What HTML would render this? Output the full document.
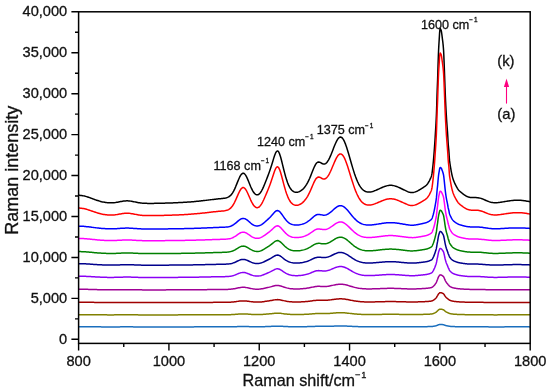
<!DOCTYPE html>
<html><head><meta charset="utf-8"><style>
html,body{margin:0;padding:0;background:#fff;}
svg{display:block;font-family:"Liberation Sans",Arial,sans-serif;}
.c path{fill:none;stroke-width:1.5;stroke-linejoin:round;}
.tl{font-size:14.6px;fill:#111;}
text{stroke:#111;stroke-width:0.3px;}
.ann{font-size:12.6px;fill:#111;}
.pl{font-size:14.8px;}
</style></head><body>
<svg width="550" height="390" viewBox="0 0 550 390">
<rect width="550" height="390" fill="#fff"/>
<g class="c">
<path d="M78.60 195.28 L79.60 195.32 L80.60 195.39 L81.60 195.51 L82.60 195.67 L83.60 195.87 L84.60 196.10 L85.60 196.36 L86.60 196.65 L87.60 196.97 L88.60 197.31 L89.60 197.66 L90.60 198.02 L91.60 198.39 L92.60 198.76 L93.60 199.13 L94.60 199.49 L95.60 199.85 L96.60 200.20 L97.60 200.53 L98.60 200.84 L99.60 201.13 L100.60 201.41 L101.60 201.67 L102.60 201.90 L103.60 202.11 L104.60 202.29 L105.60 202.45 L106.60 202.59 L107.60 202.70 L108.60 202.78 L109.60 202.83 L110.60 202.85 L111.60 202.84 L112.60 202.80 L113.60 202.73 L114.60 202.63 L115.60 202.50 L116.60 202.34 L117.60 202.17 L118.60 201.98 L119.60 201.78 L120.60 201.59 L121.60 201.40 L122.60 201.23 L123.60 201.08 L124.60 200.96 L125.60 200.88 L126.60 200.85 L127.60 200.86 L128.60 200.91 L129.60 201.00 L130.60 201.13 L131.60 201.29 L132.60 201.47 L133.60 201.67 L134.60 201.88 L135.60 202.09 L136.60 202.29 L137.60 202.48 L138.60 202.66 L139.60 202.81 L140.60 202.95 L141.60 203.07 L142.60 203.16 L143.60 203.24 L144.60 203.30 L145.60 203.34 L146.60 203.37 L147.60 203.39 L148.60 203.40 L149.60 203.41 L150.60 203.41 L151.60 203.40 L152.60 203.39 L153.60 203.38 L154.60 203.36 L155.60 203.35 L156.60 203.33 L157.60 203.31 L158.60 203.29 L159.60 203.27 L160.60 203.24 L161.60 203.22 L162.60 203.19 L163.60 203.17 L164.60 203.14 L165.60 203.11 L166.60 203.08 L167.60 203.05 L168.60 203.02 L169.60 202.99 L170.60 202.96 L171.60 202.92 L172.60 202.88 L173.60 202.84 L174.60 202.80 L175.60 202.76 L176.60 202.72 L177.60 202.67 L178.60 202.62 L179.60 202.58 L180.60 202.52 L181.60 202.47 L182.60 202.41 L183.60 202.36 L184.60 202.30 L185.60 202.23 L186.60 202.17 L187.60 202.10 L188.60 202.03 L189.60 201.96 L190.60 201.88 L191.60 201.80 L192.60 201.72 L193.60 201.63 L194.60 201.54 L195.60 201.45 L196.60 201.36 L197.60 201.26 L198.60 201.16 L199.60 201.05 L200.60 200.95 L201.60 200.84 L202.60 200.72 L203.60 200.61 L204.60 200.49 L205.60 200.37 L206.60 200.25 L207.60 200.13 L208.60 200.00 L209.60 199.88 L210.60 199.75 L211.60 199.63 L212.60 199.51 L213.60 199.39 L214.60 199.27 L215.60 199.15 L216.60 199.04 L217.60 198.94 L218.60 198.83 L219.60 198.74 L220.60 198.64 L221.60 198.54 L222.60 198.44 L223.60 198.32 L224.60 198.18 L225.60 198.00 L226.60 197.74 L227.60 197.39 L228.60 196.91 L229.60 196.25 L230.60 195.38 L231.60 194.25 L232.60 192.83 L233.60 191.10 L234.60 189.09 L235.60 186.83 L236.60 184.39 L237.60 181.88 L238.60 179.44 L239.60 177.22 L240.60 175.37 L241.60 174.03 L242.60 173.31 L243.60 173.25 L244.60 173.88 L245.60 175.13 L246.60 176.91 L247.60 179.09 L248.60 181.50 L249.60 184.00 L250.60 186.43 L251.60 188.68 L252.60 190.65 L253.60 192.28 L254.60 193.54 L255.60 194.39 L256.60 194.84 L257.60 194.87 L258.60 194.47 L259.60 193.64 L260.60 192.41 L261.60 190.78 L262.60 188.82 L263.60 186.61 L264.60 184.22 L265.60 181.73 L266.60 179.20 L267.60 176.64 L268.60 174.02 L269.60 171.28 L270.60 168.36 L271.60 165.23 L272.60 161.94 L273.60 158.62 L274.60 155.51 L275.60 152.96 L276.60 151.32 L277.60 150.90 L278.60 151.80 L279.60 153.94 L280.60 157.06 L281.60 160.81 L282.60 164.87 L283.60 168.97 L284.60 172.92 L285.60 176.57 L286.60 179.85 L287.60 182.71 L288.60 185.15 L289.60 187.16 L290.60 188.78 L291.60 190.04 L292.60 190.98 L293.60 191.64 L294.60 192.06 L295.60 192.27 L296.60 192.30 L297.60 192.17 L298.60 191.90 L299.60 191.48 L300.60 190.93 L301.60 190.24 L302.60 189.41 L303.60 188.42 L304.60 187.26 L305.60 185.91 L306.60 184.37 L307.60 182.61 L308.60 180.64 L309.60 178.46 L310.60 176.09 L311.60 173.58 L312.60 171.03 L313.60 168.55 L314.60 166.29 L315.60 164.40 L316.60 163.02 L317.60 162.21 L318.60 161.95 L319.60 162.15 L320.60 162.64 L321.60 163.23 L322.60 163.74 L323.60 164.03 L324.60 163.99 L325.60 163.57 L326.60 162.73 L327.60 161.48 L328.60 159.86 L329.60 157.90 L330.60 155.67 L331.60 153.24 L332.60 150.68 L333.60 148.10 L334.60 145.58 L335.60 143.22 L336.60 141.11 L337.60 139.37 L338.60 138.06 L339.60 137.26 L340.60 137.03 L341.60 137.39 L342.60 138.35 L343.60 139.87 L344.60 141.91 L345.60 144.40 L346.60 147.26 L347.60 150.42 L348.60 153.77 L349.60 157.25 L350.60 160.77 L351.60 164.26 L352.60 167.65 L353.60 170.90 L354.60 173.96 L355.60 176.80 L356.60 179.39 L357.60 181.72 L358.60 183.79 L359.60 185.59 L360.60 187.12 L361.60 188.42 L362.60 189.48 L363.60 190.32 L364.60 190.98 L365.60 191.46 L366.60 191.79 L367.60 191.98 L368.60 192.05 L369.60 192.02 L370.60 191.91 L371.60 191.72 L372.60 191.46 L373.60 191.16 L374.60 190.80 L375.60 190.42 L376.60 190.00 L377.60 189.56 L378.60 189.10 L379.60 188.64 L380.60 188.18 L381.60 187.73 L382.60 187.29 L383.60 186.88 L384.60 186.50 L385.60 186.16 L386.60 185.87 L387.60 185.63 L388.60 185.46 L389.60 185.35 L390.60 185.31 L391.60 185.35 L392.60 185.45 L393.60 185.63 L394.60 185.87 L395.60 186.16 L396.60 186.51 L397.60 186.91 L398.60 187.34 L399.60 187.80 L400.60 188.28 L401.60 188.76 L402.60 189.25 L403.60 189.73 L404.60 190.19 L405.60 190.63 L406.60 191.07 L407.60 191.56 L408.60 192.02 L409.60 192.36 L410.60 192.48 L411.60 192.53 L412.60 192.55 L413.60 192.40 L414.60 192.12 L415.60 191.80 L416.00 191.66 L416.20 191.58 L416.40 191.50 L416.60 191.41 L416.80 191.31 L417.00 191.21 L417.20 191.11 L417.40 191.01 L417.60 190.90 L417.80 190.79 L418.00 190.68 L418.20 190.56 L418.40 190.45 L418.60 190.34 L418.80 190.22 L419.00 190.11 L419.20 190.00 L419.40 189.89 L419.60 189.78 L419.80 189.66 L420.00 189.55 L420.20 189.43 L420.40 189.32 L420.60 189.20 L420.80 189.08 L421.00 188.96 L421.20 188.84 L421.40 188.71 L421.60 188.59 L421.80 188.46 L422.00 188.33 L422.20 188.20 L422.40 188.07 L422.60 187.94 L422.80 187.81 L423.00 187.67 L423.20 187.53 L423.40 187.39 L423.60 187.26 L423.80 187.12 L424.00 186.99 L424.20 186.85 L424.40 186.71 L424.60 186.57 L424.80 186.42 L425.00 186.28 L425.20 186.13 L425.40 185.97 L425.60 185.81 L425.80 185.64 L426.00 185.47 L426.20 185.29 L426.40 185.10 L426.60 184.90 L426.80 184.70 L427.00 184.48 L427.20 184.24 L427.40 183.99 L427.60 183.72 L427.80 183.44 L428.00 183.14 L428.20 182.83 L428.40 182.51 L428.60 182.18 L428.80 181.84 L429.00 181.50 L429.20 181.14 L429.40 180.77 L429.60 180.37 L429.80 179.95 L430.00 179.52 L430.20 179.07 L430.40 178.60 L430.60 178.14 L430.80 177.68 L431.00 177.20 L431.20 176.68 L431.40 176.08 L431.60 175.39 L431.80 174.55 L432.00 173.42 L432.20 172.02 L432.40 170.42 L432.60 168.68 L432.80 166.85 L433.00 165.00 L433.20 163.06 L433.40 160.96 L433.60 158.71 L433.80 156.34 L434.00 153.86 L434.20 151.30 L434.40 148.67 L434.60 145.87 L434.80 142.91 L435.00 139.83 L435.20 136.63 L435.40 133.37 L435.60 130.13 L435.80 126.81 L436.00 123.27 L436.20 119.38 L436.40 115.00 L436.60 109.50 L436.80 102.91 L437.00 96.12 L437.20 90.00 L437.40 85.05 L437.60 80.00 L437.80 73.47 L438.00 66.56 L438.20 60.51 L438.40 54.84 L438.60 50.00 L438.80 46.12 L439.00 42.75 L439.20 39.60 L439.40 36.27 L439.60 32.82 L439.80 30.59 L440.00 29.17 L440.20 28.50 L440.20 28.50 L440.40 28.78 L440.60 29.11 L440.80 29.49 L441.00 29.93 L441.20 30.50 L441.40 31.37 L441.60 32.56 L441.80 33.99 L442.00 35.57 L442.20 37.20 L442.40 38.79 L442.60 40.34 L442.80 41.95 L443.00 43.71 L443.20 45.69 L443.40 48.00 L443.60 50.77 L443.80 54.81 L444.00 59.82 L444.20 65.00 L444.40 70.24 L444.60 75.79 L444.80 81.43 L445.00 87.32 L445.20 92.45 L445.40 97.13 L445.60 101.55 L445.80 105.71 L446.00 109.62 L446.20 113.27 L446.40 116.66 L446.60 119.73 L446.80 122.57 L447.00 125.26 L447.20 127.91 L447.40 130.62 L447.60 133.48 L447.80 136.65 L448.00 140.24 L448.20 143.61 L448.40 146.13 L448.60 148.00 L448.80 150.00 L449.00 152.78 L449.20 155.99 L449.40 158.89 L449.60 160.90 L449.80 162.43 L450.00 163.75 L450.20 165.00 L450.40 166.26 L450.60 167.50 L450.80 168.72 L451.00 169.89 L451.20 171.02 L451.40 172.11 L451.60 173.14 L451.80 174.10 L452.00 175.00 L452.20 175.84 L452.40 176.64 L452.60 177.40 L452.80 178.11 L453.00 178.78 L453.20 179.41 L453.40 180.00 L453.60 180.55 L453.80 181.08 L454.00 181.58 L454.20 182.06 L454.40 182.52 L454.60 182.96 L454.80 183.39 L455.00 183.81 L455.20 184.21 L455.40 184.61 L455.60 185.00 L455.80 185.39 L456.00 185.77 L456.20 186.15 L456.40 186.53 L456.60 186.90 L456.80 187.26 L457.00 187.61 L457.20 187.95 L457.40 188.29 L457.60 188.61 L457.80 188.92 L458.00 189.21 L458.20 189.49 L458.40 189.75 L458.60 190.00 L458.80 190.23 L459.00 190.45 L459.20 190.66 L459.40 190.86 L459.60 191.06 L459.80 191.25 L460.00 191.43 L460.20 191.60 L460.40 191.77 L460.60 191.94 L460.80 192.11 L461.00 192.27 L461.20 192.43 L461.40 192.59 L461.60 192.75 L461.80 192.92 L462.00 193.08 L462.20 193.25 L462.40 193.41 L462.60 193.58 L462.80 193.74 L463.00 193.90 L463.20 194.06 L463.40 194.21 L463.60 194.36 L463.80 194.51 L464.00 194.66 L464.20 194.80 L464.40 194.93 L464.60 195.07 L464.80 195.20 L465.00 195.33 L465.20 195.46 L465.40 195.59 L465.60 195.72 L465.80 195.85 L466.00 195.97 L466.20 196.08 L466.40 196.19 L466.60 196.30 L466.80 196.39 L467.00 196.48 L467.20 196.56 L467.40 196.64 L467.60 196.71 L467.80 196.77 L468.00 196.84 L468.20 196.91 L468.40 196.97 L468.60 197.04 L468.80 197.10 L469.00 197.15 L469.20 197.21 L469.40 197.26 L469.60 197.31 L469.80 197.35 L470.00 197.39 L470.20 197.43 L470.40 197.46 L470.60 197.49 L470.80 197.51 L471.00 197.52 L471.20 197.54 L471.40 197.55 L471.60 197.56 L471.80 197.57 L472.00 197.58 L473.00 197.59 L474.00 197.58 L475.00 197.57 L476.00 197.58 L477.00 197.63 L478.00 197.73 L479.00 197.89 L480.00 198.12 L481.00 198.40 L482.00 198.75 L483.00 199.14 L484.00 199.56 L485.00 200.01 L486.00 200.45 L487.00 200.87 L488.00 201.27 L489.00 201.63 L490.00 201.95 L491.00 202.21 L492.00 202.41 L493.00 202.56 L494.00 202.65 L495.00 202.69 L496.00 202.69 L497.00 202.65 L498.00 202.58 L499.00 202.47 L500.00 202.35 L501.00 202.20 L502.00 202.05 L503.00 201.88 L504.00 201.71 L505.00 201.54 L506.00 201.37 L507.00 201.20 L508.00 201.04 L509.00 200.89 L510.00 200.75 L511.00 200.63 L512.00 200.52 L513.00 200.42 L514.00 200.34 L515.00 200.28 L516.00 200.24 L517.00 200.23 L518.00 200.23 L519.00 200.25 L520.00 200.30 L521.00 200.36 L522.00 200.45 L523.00 200.55 L524.00 200.68 L525.00 200.82 L526.00 200.98 L527.00 201.15 L528.00 201.34 L529.00 201.54 L530.00 201.75 L530.20 201.79" stroke="#000000"/>
<path d="M78.60 208.05 L79.60 208.08 L80.60 208.15 L81.60 208.26 L82.60 208.41 L83.60 208.59 L84.60 208.81 L85.60 209.06 L86.60 209.33 L87.60 209.62 L88.60 209.93 L89.60 210.26 L90.60 210.60 L91.60 210.94 L92.60 211.29 L93.60 211.63 L94.60 211.97 L95.60 212.30 L96.60 212.62 L97.60 212.93 L98.60 213.22 L99.60 213.49 L100.60 213.75 L101.60 213.99 L102.60 214.20 L103.60 214.40 L104.60 214.57 L105.60 214.72 L106.60 214.84 L107.60 214.94 L108.60 215.02 L109.60 215.07 L110.60 215.09 L111.60 215.08 L112.60 215.04 L113.60 214.97 L114.60 214.88 L115.60 214.76 L116.60 214.62 L117.60 214.46 L118.60 214.28 L119.60 214.10 L120.60 213.91 L121.60 213.74 L122.60 213.58 L123.60 213.44 L124.60 213.33 L125.60 213.26 L126.60 213.23 L127.60 213.23 L128.60 213.28 L129.60 213.37 L130.60 213.49 L131.60 213.64 L132.60 213.81 L133.60 213.99 L134.60 214.19 L135.60 214.38 L136.60 214.57 L137.60 214.75 L138.60 214.91 L139.60 215.06 L140.60 215.18 L141.60 215.29 L142.60 215.38 L143.60 215.45 L144.60 215.51 L145.60 215.55 L146.60 215.58 L147.60 215.59 L148.60 215.60 L149.60 215.61 L150.60 215.61 L151.60 215.60 L152.60 215.59 L153.60 215.58 L154.60 215.57 L155.60 215.55 L156.60 215.53 L157.60 215.51 L158.60 215.50 L159.60 215.48 L160.60 215.45 L161.60 215.43 L162.60 215.41 L163.60 215.38 L164.60 215.36 L165.60 215.33 L166.60 215.31 L167.60 215.28 L168.60 215.25 L169.60 215.22 L170.60 215.19 L171.60 215.15 L172.60 215.12 L173.60 215.08 L174.60 215.04 L175.60 215.01 L176.60 214.97 L177.60 214.92 L178.60 214.88 L179.60 214.83 L180.60 214.79 L181.60 214.74 L182.60 214.68 L183.60 214.63 L184.60 214.57 L185.60 214.51 L186.60 214.45 L187.60 214.39 L188.60 214.33 L189.60 214.26 L190.60 214.19 L191.60 214.11 L192.60 214.04 L193.60 213.96 L194.60 213.87 L195.60 213.79 L196.60 213.70 L197.60 213.61 L198.60 213.52 L199.60 213.42 L200.60 213.32 L201.60 213.22 L202.60 213.11 L203.60 213.00 L204.60 212.89 L205.60 212.78 L206.60 212.67 L207.60 212.56 L208.60 212.44 L209.60 212.32 L210.60 212.21 L211.60 212.09 L212.60 211.98 L213.60 211.87 L214.60 211.76 L215.60 211.65 L216.60 211.55 L217.60 211.45 L218.60 211.35 L219.60 211.26 L220.60 211.17 L221.60 211.08 L222.60 210.99 L223.60 210.88 L224.60 210.75 L225.60 210.57 L226.60 210.34 L227.60 210.01 L228.60 209.56 L229.60 208.95 L230.60 208.14 L231.60 207.09 L232.60 205.77 L233.60 204.17 L234.60 202.29 L235.60 200.19 L236.60 197.92 L237.60 195.59 L238.60 193.32 L239.60 191.25 L240.60 189.53 L241.60 188.29 L242.60 187.61 L243.60 187.56 L244.60 188.15 L245.60 189.31 L246.60 190.97 L247.60 192.99 L248.60 195.24 L249.60 197.56 L250.60 199.82 L251.60 201.91 L252.60 203.74 L253.60 205.26 L254.60 206.43 L255.60 207.22 L256.60 207.64 L257.60 207.66 L258.60 207.29 L259.60 206.53 L260.60 205.38 L261.60 203.86 L262.60 202.04 L263.60 199.98 L264.60 197.76 L265.60 195.45 L266.60 193.10 L267.60 190.71 L268.60 188.28 L269.60 185.73 L270.60 183.01 L271.60 180.10 L272.60 177.04 L273.60 173.95 L274.60 171.07 L275.60 168.69 L276.60 167.17 L277.60 166.77 L278.60 167.61 L279.60 169.60 L280.60 172.50 L281.60 175.99 L282.60 179.77 L283.60 183.58 L284.60 187.25 L285.60 190.65 L286.60 193.70 L287.60 196.36 L288.60 198.63 L289.60 200.50 L290.60 202.00 L291.60 203.17 L292.60 204.05 L293.60 204.66 L294.60 205.05 L295.60 205.25 L296.60 205.28 L297.60 205.16 L298.60 204.90 L299.60 204.52 L300.60 204.01 L301.60 203.36 L302.60 202.59 L303.60 201.67 L304.60 200.59 L305.60 199.34 L306.60 197.90 L307.60 196.27 L308.60 194.43 L309.60 192.40 L310.60 190.20 L311.60 187.87 L312.60 185.50 L313.60 183.19 L314.60 181.09 L315.60 179.33 L316.60 178.05 L317.60 177.29 L318.60 177.06 L319.60 177.24 L320.60 177.69 L321.60 178.24 L322.60 178.71 L323.60 178.98 L324.60 178.95 L325.60 178.55 L326.60 177.78 L327.60 176.62 L328.60 175.11 L329.60 173.29 L330.60 171.21 L331.60 168.95 L332.60 166.57 L333.60 164.17 L334.60 161.82 L335.60 159.63 L336.60 157.67 L337.60 156.05 L338.60 154.83 L339.60 154.09 L340.60 153.88 L341.60 154.21 L342.60 155.10 L343.60 156.51 L344.60 158.41 L345.60 160.73 L346.60 163.39 L347.60 166.33 L348.60 169.45 L349.60 172.68 L350.60 175.95 L351.60 179.20 L352.60 182.35 L353.60 185.38 L354.60 188.22 L355.60 190.86 L356.60 193.27 L357.60 195.44 L358.60 197.36 L359.60 199.03 L360.60 200.46 L361.60 201.66 L362.60 202.65 L363.60 203.44 L364.60 204.05 L365.60 204.49 L366.60 204.80 L367.60 204.98 L368.60 205.05 L369.60 205.02 L370.60 204.91 L371.60 204.74 L372.60 204.50 L373.60 204.21 L374.60 203.89 L375.60 203.52 L376.60 203.14 L377.60 202.73 L378.60 202.31 L379.60 201.88 L380.60 201.45 L381.60 201.03 L382.60 200.62 L383.60 200.24 L384.60 199.88 L385.60 199.57 L386.60 199.30 L387.60 199.08 L388.60 198.92 L389.60 198.82 L390.60 198.78 L391.60 198.81 L392.60 198.91 L393.60 199.07 L394.60 199.29 L395.60 199.57 L396.60 199.90 L397.60 200.26 L398.60 200.66 L399.60 201.09 L400.60 201.54 L401.60 201.99 L402.60 202.44 L403.60 202.89 L404.60 203.31 L405.60 203.72 L406.60 204.13 L407.60 204.59 L408.60 205.02 L409.60 205.33 L410.60 205.44 L411.60 205.49 L412.60 205.51 L413.60 205.37 L414.60 205.11 L415.60 204.81 L416.00 204.68 L416.20 204.61 L416.40 204.53 L416.60 204.45 L416.80 204.36 L417.00 204.27 L417.20 204.17 L417.40 204.07 L417.60 203.97 L417.80 203.87 L418.00 203.77 L418.20 203.66 L418.40 203.56 L418.60 203.45 L418.80 203.35 L419.00 203.24 L419.20 203.14 L419.40 203.04 L419.60 202.93 L419.80 202.83 L420.00 202.72 L420.20 202.61 L420.40 202.50 L420.60 202.39 L420.80 202.28 L421.00 202.17 L421.20 202.06 L421.40 201.94 L421.60 201.83 L421.80 201.71 L422.00 201.59 L422.20 201.47 L422.40 201.35 L422.60 201.22 L422.80 201.10 L423.00 200.97 L423.20 200.84 L423.40 200.71 L423.60 200.59 L423.80 200.46 L424.00 200.34 L424.20 200.21 L424.40 200.08 L424.60 199.95 L424.80 199.81 L425.00 199.68 L425.20 199.53 L425.40 199.39 L425.60 199.24 L425.80 199.08 L426.00 198.92 L426.20 198.76 L426.40 198.58 L426.60 198.40 L426.80 198.21 L427.00 198.01 L427.20 197.79 L427.40 197.55 L427.60 197.30 L427.80 197.03 L428.00 196.76 L428.20 196.47 L428.40 196.17 L428.60 195.87 L428.80 195.55 L429.00 195.23 L429.20 194.90 L429.40 194.55 L429.60 194.18 L429.80 193.79 L430.00 193.39 L430.20 192.97 L430.40 192.54 L430.60 192.11 L430.80 191.68 L431.00 191.24 L431.20 190.75 L431.40 190.20 L431.60 189.55 L431.80 188.77 L432.00 187.72 L432.20 186.42 L432.40 184.93 L432.60 183.31 L432.80 181.61 L433.00 179.89 L433.20 178.09 L433.40 176.13 L433.60 174.04 L433.80 171.84 L434.00 169.53 L434.20 167.15 L434.40 164.70 L434.60 162.09 L434.80 159.35 L435.00 156.48 L435.20 153.51 L435.40 150.47 L435.60 147.46 L435.80 144.37 L436.00 141.08 L436.20 137.46 L436.40 133.39 L436.60 128.27 L436.80 122.15 L437.00 115.83 L437.20 110.14 L437.40 105.54 L437.60 100.84 L437.80 94.77 L438.00 88.34 L438.20 82.71 L438.40 77.44 L438.60 72.94 L438.80 69.33 L439.00 66.20 L439.20 63.26 L439.40 60.17 L439.60 56.96 L439.80 54.89 L440.00 53.57 L440.20 52.94 L440.20 52.94 L440.40 53.20 L440.60 53.51 L440.80 53.87 L441.00 54.27 L441.20 54.80 L441.40 55.61 L441.60 56.72 L441.80 58.05 L442.00 59.52 L442.20 61.03 L442.40 62.51 L442.60 63.96 L442.80 65.45 L443.00 67.09 L443.20 68.93 L443.40 71.08 L443.60 73.65 L443.80 77.41 L444.00 82.07 L444.20 86.89 L444.40 91.76 L444.60 96.92 L444.80 102.17 L445.00 107.65 L445.20 112.41 L445.40 116.77 L445.60 120.88 L445.80 124.75 L446.00 128.38 L446.20 131.78 L446.40 134.93 L446.60 137.79 L446.80 140.42 L447.00 142.93 L447.20 145.40 L447.40 147.91 L447.60 150.58 L447.80 153.52 L448.00 156.86 L448.20 160.00 L448.40 162.34 L448.60 164.07 L448.80 165.94 L449.00 168.53 L449.20 171.51 L449.40 174.20 L449.60 176.07 L449.80 177.50 L450.00 178.72 L450.20 179.89 L450.40 181.06 L450.60 182.22 L450.80 183.34 L451.00 184.44 L451.20 185.49 L451.40 186.50 L451.60 187.45 L451.80 188.35 L452.00 189.19 L452.20 189.97 L452.40 190.71 L452.60 191.42 L452.80 192.08 L453.00 192.71 L453.20 193.29 L453.40 193.84 L453.60 194.35 L453.80 194.84 L454.00 195.31 L454.20 195.75 L454.40 196.18 L454.60 196.59 L454.80 196.99 L455.00 197.38 L455.20 197.76 L455.40 198.13 L455.60 198.49 L455.80 198.85 L456.00 199.20 L456.20 199.56 L456.40 199.91 L456.60 200.25 L456.80 200.59 L457.00 200.92 L457.20 201.24 L457.40 201.55 L457.60 201.84 L457.80 202.13 L458.00 202.41 L458.20 202.67 L458.40 202.91 L458.60 203.14 L458.80 203.35 L459.00 203.56 L459.20 203.75 L459.40 203.94 L459.60 204.12 L459.80 204.30 L460.00 204.46 L460.20 204.63 L460.40 204.79 L460.60 204.94 L460.80 205.10 L461.00 205.25 L461.20 205.40 L461.40 205.55 L461.60 205.70 L461.80 205.85 L462.00 206.01 L462.20 206.16 L462.40 206.31 L462.60 206.46 L462.80 206.62 L463.00 206.76 L463.20 206.91 L463.40 207.05 L463.60 207.20 L463.80 207.33 L464.00 207.47 L464.20 207.60 L464.40 207.73 L464.60 207.85 L464.80 207.97 L465.00 208.10 L465.20 208.22 L465.40 208.34 L465.60 208.46 L465.80 208.57 L466.00 208.69 L466.20 208.79 L466.40 208.90 L466.60 208.99 L466.80 209.08 L467.00 209.17 L467.20 209.24 L467.40 209.31 L467.60 209.37 L467.80 209.44 L468.00 209.50 L468.20 209.56 L468.40 209.62 L468.60 209.68 L468.80 209.74 L469.00 209.79 L469.20 209.84 L469.40 209.89 L469.60 209.93 L469.80 209.97 L470.00 210.01 L470.20 210.05 L470.40 210.08 L470.60 210.10 L470.80 210.12 L471.00 210.13 L471.20 210.15 L471.40 210.16 L471.60 210.17 L471.80 210.18 L472.00 210.19 L473.00 210.20 L474.00 210.19 L475.00 210.18 L476.00 210.19 L477.00 210.23 L478.00 210.33 L479.00 210.48 L480.00 210.69 L481.00 210.95 L482.00 211.28 L483.00 211.64 L484.00 212.03 L485.00 212.44 L486.00 212.85 L487.00 213.25 L488.00 213.62 L489.00 213.96 L490.00 214.25 L491.00 214.49 L492.00 214.68 L493.00 214.82 L494.00 214.90 L495.00 214.94 L496.00 214.94 L497.00 214.90 L498.00 214.83 L499.00 214.74 L500.00 214.62 L501.00 214.49 L502.00 214.34 L503.00 214.19 L504.00 214.03 L505.00 213.87 L506.00 213.71 L507.00 213.56 L508.00 213.41 L509.00 213.27 L510.00 213.14 L511.00 213.02 L512.00 212.92 L513.00 212.83 L514.00 212.76 L515.00 212.70 L516.00 212.66 L517.00 212.65 L518.00 212.65 L519.00 212.67 L520.00 212.71 L521.00 212.77 L522.00 212.86 L523.00 212.95 L524.00 213.07 L525.00 213.20 L526.00 213.35 L527.00 213.51 L528.00 213.68 L529.00 213.87 L530.00 214.06 L530.20 214.10" stroke="#ff0000"/>
<path d="M78.60 226.14 L79.60 226.15 L80.60 226.18 L81.60 226.22 L82.60 226.28 L83.60 226.35 L84.60 226.43 L85.60 226.52 L86.60 226.63 L87.60 226.74 L88.60 226.86 L89.60 226.98 L90.60 227.11 L91.60 227.24 L92.60 227.37 L93.60 227.50 L94.60 227.63 L95.60 227.75 L96.60 227.87 L97.60 227.99 L98.60 228.10 L99.60 228.20 L100.60 228.30 L101.60 228.39 L102.60 228.47 L103.60 228.54 L104.60 228.61 L105.60 228.67 L106.60 228.71 L107.60 228.75 L108.60 228.78 L109.60 228.80 L110.60 228.81 L111.60 228.80 L112.60 228.79 L113.60 228.76 L114.60 228.73 L115.60 228.68 L116.60 228.63 L117.60 228.57 L118.60 228.50 L119.60 228.43 L120.60 228.36 L121.60 228.30 L122.60 228.23 L123.60 228.18 L124.60 228.14 L125.60 228.11 L126.60 228.10 L127.60 228.10 L128.60 228.12 L129.60 228.16 L130.60 228.20 L131.60 228.26 L132.60 228.32 L133.60 228.39 L134.60 228.47 L135.60 228.54 L136.60 228.61 L137.60 228.68 L138.60 228.74 L139.60 228.79 L140.60 228.84 L141.60 228.88 L142.60 228.92 L143.60 228.94 L144.60 228.96 L145.60 228.98 L146.60 228.99 L147.60 229.00 L148.60 229.00 L149.60 229.00 L150.60 229.00 L151.60 229.00 L152.60 229.00 L153.60 228.99 L154.60 228.99 L155.60 228.98 L156.60 228.97 L157.60 228.97 L158.60 228.96 L159.60 228.95 L160.60 228.94 L161.60 228.94 L162.60 228.93 L163.60 228.92 L164.60 228.91 L165.60 228.90 L166.60 228.89 L167.60 228.88 L168.60 228.87 L169.60 228.86 L170.60 228.84 L171.60 228.83 L172.60 228.82 L173.60 228.80 L174.60 228.79 L175.60 228.78 L176.60 228.76 L177.60 228.74 L178.60 228.73 L179.60 228.71 L180.60 228.69 L181.60 228.67 L182.60 228.65 L183.60 228.63 L184.60 228.61 L185.60 228.59 L186.60 228.57 L187.60 228.54 L188.60 228.52 L189.60 228.49 L190.60 228.46 L191.60 228.44 L192.60 228.41 L193.60 228.38 L194.60 228.35 L195.60 228.31 L196.60 228.28 L197.60 228.25 L198.60 228.21 L199.60 228.17 L200.60 228.14 L201.60 228.10 L202.60 228.06 L203.60 228.02 L204.60 227.98 L205.60 227.93 L206.60 227.89 L207.60 227.85 L208.60 227.80 L209.60 227.76 L210.60 227.72 L211.60 227.67 L212.60 227.63 L213.60 227.59 L214.60 227.55 L215.60 227.51 L216.60 227.47 L217.60 227.43 L218.60 227.39 L219.60 227.36 L220.60 227.32 L221.60 227.29 L222.60 227.25 L223.60 227.21 L224.60 227.16 L225.60 227.10 L226.60 227.01 L227.60 226.89 L228.60 226.72 L229.60 226.48 L230.60 226.18 L231.60 225.78 L232.60 225.28 L233.60 224.67 L234.60 223.96 L235.60 223.17 L236.60 222.31 L237.60 221.43 L238.60 220.57 L239.60 219.78 L240.60 219.13 L241.60 218.66 L242.60 218.41 L243.60 218.39 L244.60 218.61 L245.60 219.05 L246.60 219.68 L247.60 220.44 L248.60 221.29 L249.60 222.17 L250.60 223.03 L251.60 223.82 L252.60 224.51 L253.60 225.09 L254.60 225.53 L255.60 225.83 L256.60 225.99 L257.60 226.00 L258.60 225.86 L259.60 225.57 L260.60 225.13 L261.60 224.56 L262.60 223.87 L263.60 223.09 L264.60 222.25 L265.60 221.37 L266.60 220.48 L267.60 219.58 L268.60 218.66 L269.60 217.69 L270.60 216.67 L271.60 215.57 L272.60 214.41 L273.60 213.24 L274.60 212.14 L275.60 211.25 L276.60 210.67 L277.60 210.52 L278.60 210.84 L279.60 211.59 L280.60 212.69 L281.60 214.01 L282.60 215.44 L283.60 216.88 L284.60 218.27 L285.60 219.56 L286.60 220.71 L287.60 221.72 L288.60 222.58 L289.60 223.28 L290.60 223.85 L291.60 224.30 L292.60 224.63 L293.60 224.86 L294.60 225.01 L295.60 225.08 L296.60 225.09 L297.60 225.05 L298.60 224.95 L299.60 224.80 L300.60 224.61 L301.60 224.37 L302.60 224.08 L303.60 223.73 L304.60 223.32 L305.60 222.84 L306.60 222.30 L307.60 221.68 L308.60 220.99 L309.60 220.22 L310.60 219.39 L311.60 218.50 L312.60 217.61 L313.60 216.73 L314.60 215.94 L315.60 215.27 L316.60 214.79 L317.60 214.50 L318.60 214.41 L319.60 214.48 L320.60 214.65 L321.60 214.86 L322.60 215.04 L323.60 215.14 L324.60 215.13 L325.60 214.98 L326.60 214.68 L327.60 214.25 L328.60 213.67 L329.60 212.98 L330.60 212.20 L331.60 211.34 L332.60 210.44 L333.60 209.53 L334.60 208.65 L335.60 207.82 L336.60 207.08 L337.60 206.46 L338.60 206.00 L339.60 205.72 L340.60 205.64 L341.60 205.76 L342.60 206.10 L343.60 206.64 L344.60 207.35 L345.60 208.23 L346.60 209.24 L347.60 210.35 L348.60 211.53 L349.60 212.76 L350.60 213.99 L351.60 215.22 L352.60 216.42 L353.60 217.56 L354.60 218.64 L355.60 219.64 L356.60 220.55 L357.60 221.37 L358.60 222.10 L359.60 222.73 L360.60 223.27 L361.60 223.73 L362.60 224.10 L363.60 224.40 L364.60 224.63 L365.60 224.80 L366.60 224.91 L367.60 224.98 L368.60 225.01 L369.60 225.00 L370.60 224.95 L371.60 224.89 L372.60 224.80 L373.60 224.69 L374.60 224.57 L375.60 224.43 L376.60 224.28 L377.60 224.13 L378.60 223.97 L379.60 223.81 L380.60 223.64 L381.60 223.48 L382.60 223.33 L383.60 223.18 L384.60 223.05 L385.60 222.93 L386.60 222.83 L387.60 222.75 L388.60 222.69 L389.60 222.65 L390.60 222.63 L391.60 222.65 L392.60 222.68 L393.60 222.74 L394.60 222.83 L395.60 222.93 L396.60 223.06 L397.60 223.20 L398.60 223.35 L399.60 223.51 L400.60 223.68 L401.60 223.85 L402.60 224.02 L403.60 224.19 L404.60 224.35 L405.60 224.50 L406.60 224.66 L407.60 224.83 L408.60 225.00 L409.60 225.11 L410.60 225.16 L411.60 225.18 L412.60 225.18 L413.60 225.13 L414.60 225.03 L415.60 224.92 L416.00 224.87 L416.20 224.84 L416.40 224.81 L416.60 224.78 L416.80 224.74 L417.00 224.71 L417.20 224.67 L417.40 224.64 L417.60 224.60 L417.80 224.56 L418.00 224.52 L418.20 224.48 L418.40 224.44 L418.60 224.40 L418.80 224.36 L419.00 224.32 L419.20 224.28 L419.40 224.24 L419.60 224.20 L419.80 224.17 L420.00 224.12 L420.20 224.08 L420.40 224.04 L420.60 224.00 L420.80 223.96 L421.00 223.92 L421.20 223.87 L421.40 223.83 L421.60 223.79 L421.80 223.74 L422.00 223.70 L422.20 223.65 L422.40 223.60 L422.60 223.56 L422.80 223.51 L423.00 223.46 L423.20 223.41 L423.40 223.37 L423.60 223.32 L423.80 223.27 L424.00 223.22 L424.20 223.17 L424.40 223.13 L424.60 223.08 L424.80 223.02 L425.00 222.97 L425.20 222.92 L425.40 222.86 L425.60 222.81 L425.80 222.75 L426.00 222.69 L426.20 222.62 L426.40 222.56 L426.60 222.49 L426.80 222.42 L427.00 222.34 L427.20 222.26 L427.40 222.17 L427.60 222.07 L427.80 221.97 L428.00 221.87 L428.20 221.76 L428.40 221.65 L428.60 221.53 L428.80 221.41 L429.00 221.29 L429.20 221.17 L429.40 221.03 L429.60 220.89 L429.80 220.75 L430.00 220.59 L430.20 220.43 L430.40 220.27 L430.60 220.11 L430.80 219.95 L431.00 219.78 L431.20 219.59 L431.40 219.38 L431.60 219.14 L431.80 218.84 L432.00 218.45 L432.20 217.95 L432.40 217.39 L432.60 216.78 L432.80 216.14 L433.00 215.48 L433.20 214.80 L433.40 214.06 L433.60 213.27 L433.80 212.44 L434.00 211.56 L434.20 210.66 L434.40 209.73 L434.60 208.75 L434.80 207.71 L435.00 206.62 L435.20 205.50 L435.40 204.35 L435.60 203.21 L435.80 202.04 L436.00 200.79 L436.20 199.42 L436.40 197.88 L436.60 195.95 L436.80 193.63 L437.00 191.24 L437.20 189.08 L437.40 187.34 L437.60 185.56 L437.80 183.27 L438.00 180.83 L438.20 178.70 L438.40 176.71 L438.60 175.00 L438.80 173.64 L439.00 172.45 L439.20 171.34 L439.40 170.17 L439.60 168.96 L439.80 168.17 L440.00 167.67 L440.20 167.44 L440.20 167.44 L440.40 167.53 L440.60 167.65 L440.80 167.79 L441.00 167.94 L441.20 168.14 L441.40 168.44 L441.60 168.86 L441.80 169.37 L442.00 169.92 L442.20 170.50 L442.40 171.06 L442.60 171.60 L442.80 172.17 L443.00 172.79 L443.20 173.49 L443.40 174.30 L443.60 175.27 L443.80 176.70 L444.00 178.46 L444.20 180.28 L444.40 182.13 L444.60 184.08 L444.80 186.07 L445.00 188.14 L445.20 189.94 L445.40 191.59 L445.60 193.15 L445.80 194.61 L446.00 195.99 L446.20 197.27 L446.40 198.47 L446.60 199.55 L446.80 200.55 L447.00 201.49 L447.20 202.43 L447.40 203.38 L447.60 204.39 L447.80 205.50 L448.00 206.77 L448.20 207.96 L448.40 208.84 L448.60 209.50 L448.80 210.20 L449.00 211.18 L449.20 212.31 L449.40 213.33 L449.60 214.04 L449.80 214.58 L450.00 215.04 L450.20 215.48 L450.40 215.93 L450.60 216.36 L450.80 216.79 L451.00 217.20 L451.20 217.60 L451.40 217.98 L451.60 218.35 L451.80 218.69 L452.00 219.00 L452.20 219.30 L452.40 219.58 L452.60 219.85 L452.80 220.10 L453.00 220.34 L453.20 220.56 L453.40 220.76 L453.60 220.96 L453.80 221.14 L454.00 221.32 L454.20 221.49 L454.40 221.65 L454.60 221.81 L454.80 221.96 L455.00 222.10 L455.20 222.25 L455.40 222.39 L455.60 222.52 L455.80 222.66 L456.00 222.79 L456.20 222.93 L456.40 223.06 L456.60 223.19 L456.80 223.32 L457.00 223.44 L457.20 223.56 L457.40 223.68 L457.60 223.79 L457.80 223.90 L458.00 224.01 L458.20 224.10 L458.40 224.20 L458.60 224.28 L458.80 224.36 L459.00 224.44 L459.20 224.52 L459.40 224.59 L459.60 224.66 L459.80 224.72 L460.00 224.79 L460.20 224.85 L460.40 224.91 L460.60 224.97 L460.80 225.02 L461.00 225.08 L461.20 225.14 L461.40 225.20 L461.60 225.25 L461.80 225.31 L462.00 225.37 L462.20 225.43 L462.40 225.48 L462.60 225.54 L462.80 225.60 L463.00 225.66 L463.20 225.71 L463.40 225.77 L463.60 225.82 L463.80 225.87 L464.00 225.92 L464.20 225.97 L464.40 226.02 L464.60 226.07 L464.80 226.11 L465.00 226.16 L465.20 226.21 L465.40 226.25 L465.60 226.30 L465.80 226.34 L466.00 226.38 L466.20 226.42 L466.40 226.46 L466.60 226.50 L466.80 226.53 L467.00 226.57 L467.20 226.59 L467.40 226.62 L467.60 226.64 L467.80 226.67 L468.00 226.69 L468.20 226.72 L468.40 226.74 L468.60 226.76 L468.80 226.78 L469.00 226.80 L469.20 226.82 L469.40 226.84 L469.60 226.86 L469.80 226.87 L470.00 226.89 L470.20 226.90 L470.40 226.91 L470.60 226.92 L470.80 226.93 L471.00 226.93 L471.20 226.94 L471.40 226.94 L471.60 226.95 L471.80 226.95 L472.00 226.95 L473.00 226.95 L474.00 226.95 L475.00 226.95 L476.00 226.95 L477.00 226.97 L478.00 227.00 L479.00 227.06 L480.00 227.14 L481.00 227.24 L482.00 227.36 L483.00 227.50 L484.00 227.65 L485.00 227.81 L486.00 227.96 L487.00 228.11 L488.00 228.25 L489.00 228.38 L490.00 228.49 L491.00 228.58 L492.00 228.65 L493.00 228.70 L494.00 228.74 L495.00 228.75 L496.00 228.75 L497.00 228.74 L498.00 228.71 L499.00 228.67 L500.00 228.63 L501.00 228.58 L502.00 228.52 L503.00 228.47 L504.00 228.41 L505.00 228.35 L506.00 228.29 L507.00 228.23 L508.00 228.17 L509.00 228.12 L510.00 228.07 L511.00 228.02 L512.00 227.98 L513.00 227.95 L514.00 227.92 L515.00 227.90 L516.00 227.89 L517.00 227.88 L518.00 227.88 L519.00 227.89 L520.00 227.91 L521.00 227.93 L522.00 227.96 L523.00 228.00 L524.00 228.04 L525.00 228.09 L526.00 228.15 L527.00 228.21 L528.00 228.28 L529.00 228.34 L530.00 228.42 L530.20 228.43" stroke="#0000ff"/>
<path d="M78.60 238.40 L79.60 238.41 L80.60 238.43 L81.60 238.47 L82.60 238.51 L83.60 238.57 L84.60 238.63 L85.60 238.71 L86.60 238.79 L87.60 238.88 L88.60 238.98 L89.60 239.08 L90.60 239.18 L91.60 239.28 L92.60 239.39 L93.60 239.49 L94.60 239.59 L95.60 239.70 L96.60 239.79 L97.60 239.89 L98.60 239.98 L99.60 240.06 L100.60 240.14 L101.60 240.21 L102.60 240.27 L103.60 240.33 L104.60 240.39 L105.60 240.43 L106.60 240.47 L107.60 240.50 L108.60 240.52 L109.60 240.54 L110.60 240.54 L111.60 240.54 L112.60 240.53 L113.60 240.51 L114.60 240.48 L115.60 240.44 L116.60 240.40 L117.60 240.35 L118.60 240.30 L119.60 240.24 L120.60 240.19 L121.60 240.13 L122.60 240.08 L123.60 240.04 L124.60 240.01 L125.60 239.99 L126.60 239.98 L127.60 239.98 L128.60 239.99 L129.60 240.02 L130.60 240.06 L131.60 240.10 L132.60 240.15 L133.60 240.21 L134.60 240.27 L135.60 240.33 L136.60 240.39 L137.60 240.44 L138.60 240.49 L139.60 240.53 L140.60 240.57 L141.60 240.61 L142.60 240.63 L143.60 240.65 L144.60 240.67 L145.60 240.68 L146.60 240.69 L147.60 240.70 L148.60 240.70 L149.60 240.70 L150.60 240.70 L151.60 240.70 L152.60 240.70 L153.60 240.69 L154.60 240.69 L155.60 240.68 L156.60 240.68 L157.60 240.67 L158.60 240.67 L159.60 240.66 L160.60 240.66 L161.60 240.65 L162.60 240.64 L163.60 240.63 L164.60 240.63 L165.60 240.62 L166.60 240.61 L167.60 240.60 L168.60 240.59 L169.60 240.58 L170.60 240.57 L171.60 240.56 L172.60 240.55 L173.60 240.54 L174.60 240.53 L175.60 240.52 L176.60 240.51 L177.60 240.49 L178.60 240.48 L179.60 240.47 L180.60 240.45 L181.60 240.44 L182.60 240.42 L183.60 240.40 L184.60 240.39 L185.60 240.37 L186.60 240.35 L187.60 240.33 L188.60 240.31 L189.60 240.29 L190.60 240.27 L191.60 240.25 L192.60 240.22 L193.60 240.20 L194.60 240.17 L195.60 240.15 L196.60 240.12 L197.60 240.09 L198.60 240.07 L199.60 240.04 L200.60 240.01 L201.60 239.97 L202.60 239.94 L203.60 239.91 L204.60 239.88 L205.60 239.84 L206.60 239.81 L207.60 239.77 L208.60 239.74 L209.60 239.70 L210.60 239.67 L211.60 239.63 L212.60 239.60 L213.60 239.56 L214.60 239.53 L215.60 239.50 L216.60 239.47 L217.60 239.44 L218.60 239.41 L219.60 239.38 L220.60 239.35 L221.60 239.33 L222.60 239.30 L223.60 239.26 L224.60 239.22 L225.60 239.17 L226.60 239.10 L227.60 239.00 L228.60 238.86 L229.60 238.68 L230.60 238.43 L231.60 238.11 L232.60 237.71 L233.60 237.22 L234.60 236.65 L235.60 236.01 L236.60 235.32 L237.60 234.61 L238.60 233.92 L239.60 233.29 L240.60 232.77 L241.60 232.39 L242.60 232.18 L243.60 232.17 L244.60 232.35 L245.60 232.70 L246.60 233.20 L247.60 233.82 L248.60 234.50 L249.60 235.21 L250.60 235.90 L251.60 236.53 L252.60 237.09 L253.60 237.55 L254.60 237.91 L255.60 238.15 L256.60 238.28 L257.60 238.28 L258.60 238.17 L259.60 237.94 L260.60 237.59 L261.60 237.13 L262.60 236.57 L263.60 235.95 L264.60 235.27 L265.60 234.57 L266.60 233.85 L267.60 233.13 L268.60 232.39 L269.60 231.61 L270.60 230.78 L271.60 229.90 L272.60 228.97 L273.60 228.03 L274.60 227.15 L275.60 226.43 L276.60 225.96 L277.60 225.84 L278.60 226.10 L279.60 226.70 L280.60 227.58 L281.60 228.65 L282.60 229.80 L283.60 230.96 L284.60 232.07 L285.60 233.11 L286.60 234.04 L287.60 234.85 L288.60 235.53 L289.60 236.10 L290.60 236.56 L291.60 236.92 L292.60 237.18 L293.60 237.37 L294.60 237.49 L295.60 237.55 L296.60 237.56 L297.60 237.52 L298.60 237.44 L299.60 237.33 L300.60 237.17 L301.60 236.98 L302.60 236.74 L303.60 236.46 L304.60 236.13 L305.60 235.75 L306.60 235.31 L307.60 234.82 L308.60 234.26 L309.60 233.64 L310.60 232.97 L311.60 232.26 L312.60 231.54 L313.60 230.84 L314.60 230.20 L315.60 229.66 L316.60 229.27 L317.60 229.04 L318.60 228.97 L319.60 229.03 L320.60 229.16 L321.60 229.33 L322.60 229.48 L323.60 229.56 L324.60 229.55 L325.60 229.43 L326.60 229.19 L327.60 228.84 L328.60 228.38 L329.60 227.82 L330.60 227.19 L331.60 226.50 L332.60 225.78 L333.60 225.05 L334.60 224.34 L335.60 223.67 L336.60 223.07 L337.60 222.58 L338.60 222.21 L339.60 221.98 L340.60 221.92 L341.60 222.02 L342.60 222.29 L343.60 222.72 L344.60 223.30 L345.60 224.00 L346.60 224.81 L347.60 225.71 L348.60 226.66 L349.60 227.64 L350.60 228.63 L351.60 229.62 L352.60 230.58 L353.60 231.50 L354.60 232.37 L355.60 233.17 L356.60 233.91 L357.60 234.57 L358.60 235.15 L359.60 235.66 L360.60 236.09 L361.60 236.46 L362.60 236.76 L363.60 237.00 L364.60 237.18 L365.60 237.32 L366.60 237.41 L367.60 237.47 L368.60 237.49 L369.60 237.48 L370.60 237.45 L371.60 237.39 L372.60 237.32 L373.60 237.24 L374.60 237.14 L375.60 237.03 L376.60 236.91 L377.60 236.78 L378.60 236.65 L379.60 236.52 L380.60 236.39 L381.60 236.27 L382.60 236.14 L383.60 236.02 L384.60 235.92 L385.60 235.82 L386.60 235.74 L387.60 235.67 L388.60 235.62 L389.60 235.59 L390.60 235.58 L391.60 235.59 L392.60 235.62 L393.60 235.67 L394.60 235.74 L395.60 235.82 L396.60 235.92 L397.60 236.03 L398.60 236.16 L399.60 236.29 L400.60 236.42 L401.60 236.56 L402.60 236.70 L403.60 236.83 L404.60 236.96 L405.60 237.09 L406.60 237.21 L407.60 237.35 L408.60 237.48 L409.60 237.57 L410.60 237.61 L411.60 237.62 L412.60 237.63 L413.60 237.59 L414.60 237.51 L415.60 237.42 L416.00 237.38 L416.20 237.36 L416.40 237.33 L416.60 237.31 L416.80 237.28 L417.00 237.25 L417.20 237.22 L417.40 237.19 L417.60 237.16 L417.80 237.13 L418.00 237.10 L418.20 237.07 L418.40 237.04 L418.60 237.00 L418.80 236.97 L419.00 236.94 L419.20 236.91 L419.40 236.88 L419.60 236.84 L419.80 236.81 L420.00 236.78 L420.20 236.75 L420.40 236.71 L420.60 236.68 L420.80 236.65 L421.00 236.61 L421.20 236.58 L421.40 236.54 L421.60 236.51 L421.80 236.47 L422.00 236.44 L422.20 236.40 L422.40 236.36 L422.60 236.32 L422.80 236.29 L423.00 236.25 L423.20 236.21 L423.40 236.17 L423.60 236.13 L423.80 236.09 L424.00 236.05 L424.20 236.02 L424.40 235.98 L424.60 235.94 L424.80 235.90 L425.00 235.85 L425.20 235.81 L425.40 235.77 L425.60 235.72 L425.80 235.67 L426.00 235.63 L426.20 235.57 L426.40 235.52 L426.60 235.47 L426.80 235.41 L427.00 235.35 L427.20 235.28 L427.40 235.21 L427.60 235.13 L427.80 235.05 L428.00 234.97 L428.20 234.88 L428.40 234.79 L428.60 234.69 L428.80 234.60 L429.00 234.50 L429.20 234.40 L429.40 234.29 L429.60 234.18 L429.80 234.06 L430.00 233.94 L430.20 233.81 L430.40 233.68 L430.60 233.55 L430.80 233.42 L431.00 233.29 L431.20 233.14 L431.40 232.97 L431.60 232.77 L431.80 232.54 L432.00 232.21 L432.20 231.82 L432.40 231.37 L432.60 230.87 L432.80 230.36 L433.00 229.83 L433.20 229.28 L433.40 228.69 L433.60 228.05 L433.80 227.38 L434.00 226.68 L434.20 225.96 L434.40 225.21 L434.60 224.42 L434.80 223.58 L435.00 222.71 L435.20 221.80 L435.40 220.88 L435.60 219.96 L435.80 219.02 L436.00 218.02 L436.20 216.92 L436.40 215.68 L436.60 214.13 L436.80 212.26 L437.00 210.34 L437.20 208.61 L437.40 207.21 L437.60 205.78 L437.80 203.93 L438.00 201.98 L438.20 200.26 L438.40 198.66 L438.60 197.29 L438.80 196.19 L439.00 195.24 L439.20 194.34 L439.40 193.40 L439.60 192.43 L439.80 191.80 L440.00 191.39 L440.20 191.20 L440.20 191.20 L440.40 191.28 L440.60 191.38 L440.80 191.48 L441.00 191.61 L441.20 191.77 L441.40 192.01 L441.60 192.35 L441.80 192.76 L442.00 193.20 L442.20 193.66 L442.40 194.11 L442.60 194.55 L442.80 195.01 L443.00 195.51 L443.20 196.07 L443.40 196.72 L443.60 197.51 L443.80 198.65 L444.00 200.07 L444.20 201.53 L444.40 203.02 L444.60 204.59 L444.80 206.18 L445.00 207.85 L445.20 209.30 L445.40 210.63 L445.60 211.88 L445.80 213.05 L446.00 214.16 L446.20 215.19 L446.40 216.15 L446.60 217.02 L446.80 217.82 L447.00 218.59 L447.20 219.34 L447.40 220.10 L447.60 220.91 L447.80 221.81 L448.00 222.82 L448.20 223.78 L448.40 224.49 L448.60 225.02 L448.80 225.59 L449.00 226.38 L449.20 227.28 L449.40 228.10 L449.60 228.67 L449.80 229.11 L450.00 229.48 L450.20 229.83 L450.40 230.19 L450.60 230.54 L450.80 230.88 L451.00 231.22 L451.20 231.54 L451.40 231.84 L451.60 232.14 L451.80 232.41 L452.00 232.66 L452.20 232.90 L452.40 233.13 L452.60 233.34 L452.80 233.54 L453.00 233.73 L453.20 233.91 L453.40 234.08 L453.60 234.23 L453.80 234.38 L454.00 234.52 L454.20 234.66 L454.40 234.79 L454.60 234.92 L454.80 235.04 L455.00 235.16 L455.20 235.27 L455.40 235.38 L455.60 235.49 L455.80 235.60 L456.00 235.71 L456.20 235.82 L456.40 235.92 L456.60 236.03 L456.80 236.13 L457.00 236.23 L457.20 236.33 L457.40 236.42 L457.60 236.51 L457.80 236.60 L458.00 236.68 L458.20 236.76 L458.40 236.84 L458.60 236.91 L458.80 236.97 L459.00 237.04 L459.20 237.10 L459.40 237.15 L459.60 237.21 L459.80 237.26 L460.00 237.31 L460.20 237.36 L460.40 237.41 L460.60 237.46 L460.80 237.50 L461.00 237.55 L461.20 237.60 L461.40 237.64 L461.60 237.69 L461.80 237.73 L462.00 237.78 L462.20 237.83 L462.40 237.87 L462.60 237.92 L462.80 237.97 L463.00 238.01 L463.20 238.06 L463.40 238.10 L463.60 238.14 L463.80 238.18 L464.00 238.23 L464.20 238.27 L464.40 238.30 L464.60 238.34 L464.80 238.38 L465.00 238.42 L465.20 238.45 L465.40 238.49 L465.60 238.53 L465.80 238.56 L466.00 238.60 L466.20 238.63 L466.40 238.66 L466.60 238.69 L466.80 238.72 L467.00 238.74 L467.20 238.77 L467.40 238.79 L467.60 238.81 L467.80 238.82 L468.00 238.84 L468.20 238.86 L468.40 238.88 L468.60 238.90 L468.80 238.92 L469.00 238.93 L469.20 238.95 L469.40 238.96 L469.60 238.98 L469.80 238.99 L470.00 239.00 L470.20 239.01 L470.40 239.02 L470.60 239.03 L470.80 239.03 L471.00 239.04 L471.20 239.04 L471.40 239.04 L471.60 239.05 L471.80 239.05 L472.00 239.05 L473.00 239.06 L474.00 239.05 L475.00 239.05 L476.00 239.05 L477.00 239.07 L478.00 239.09 L479.00 239.14 L480.00 239.20 L481.00 239.29 L482.00 239.38 L483.00 239.49 L484.00 239.61 L485.00 239.74 L486.00 239.86 L487.00 239.99 L488.00 240.10 L489.00 240.20 L490.00 240.29 L491.00 240.36 L492.00 240.42 L493.00 240.46 L494.00 240.49 L495.00 240.50 L496.00 240.50 L497.00 240.49 L498.00 240.47 L499.00 240.44 L500.00 240.40 L501.00 240.36 L502.00 240.32 L503.00 240.27 L504.00 240.22 L505.00 240.17 L506.00 240.13 L507.00 240.08 L508.00 240.03 L509.00 239.99 L510.00 239.95 L511.00 239.92 L512.00 239.88 L513.00 239.86 L514.00 239.83 L515.00 239.82 L516.00 239.81 L517.00 239.80 L518.00 239.80 L519.00 239.81 L520.00 239.82 L521.00 239.84 L522.00 239.86 L523.00 239.89 L524.00 239.93 L525.00 239.97 L526.00 240.02 L527.00 240.06 L528.00 240.12 L529.00 240.17 L530.00 240.23 L530.20 240.24" stroke="#ff00ff"/>
<path d="M78.60 251.59 L79.60 251.60 L80.60 251.61 L81.60 251.64 L82.60 251.68 L83.60 251.73 L84.60 251.79 L85.60 251.85 L86.60 251.93 L87.60 252.01 L88.60 252.09 L89.60 252.18 L90.60 252.27 L91.60 252.36 L92.60 252.45 L93.60 252.54 L94.60 252.63 L95.60 252.72 L96.60 252.81 L97.60 252.89 L98.60 252.96 L99.60 253.04 L100.60 253.11 L101.60 253.17 L102.60 253.23 L103.60 253.28 L104.60 253.33 L105.60 253.37 L106.60 253.40 L107.60 253.43 L108.60 253.45 L109.60 253.46 L110.60 253.46 L111.60 253.46 L112.60 253.45 L113.60 253.43 L114.60 253.41 L115.60 253.38 L116.60 253.34 L117.60 253.29 L118.60 253.25 L119.60 253.20 L120.60 253.15 L121.60 253.10 L122.60 253.06 L123.60 253.02 L124.60 253.00 L125.60 252.98 L126.60 252.97 L127.60 252.97 L128.60 252.98 L129.60 253.00 L130.60 253.04 L131.60 253.08 L132.60 253.12 L133.60 253.17 L134.60 253.22 L135.60 253.27 L136.60 253.33 L137.60 253.37 L138.60 253.42 L139.60 253.45 L140.60 253.49 L141.60 253.52 L142.60 253.54 L143.60 253.56 L144.60 253.57 L145.60 253.59 L146.60 253.59 L147.60 253.60 L148.60 253.60 L149.60 253.60 L150.60 253.60 L151.60 253.60 L152.60 253.60 L153.60 253.59 L154.60 253.59 L155.60 253.59 L156.60 253.58 L157.60 253.58 L158.60 253.57 L159.60 253.57 L160.60 253.56 L161.60 253.56 L162.60 253.55 L163.60 253.54 L164.60 253.54 L165.60 253.53 L166.60 253.52 L167.60 253.51 L168.60 253.51 L169.60 253.50 L170.60 253.49 L171.60 253.48 L172.60 253.47 L173.60 253.46 L174.60 253.45 L175.60 253.44 L176.60 253.43 L177.60 253.42 L178.60 253.41 L179.60 253.40 L180.60 253.38 L181.60 253.37 L182.60 253.36 L183.60 253.34 L184.60 253.33 L185.60 253.31 L186.60 253.29 L187.60 253.28 L188.60 253.26 L189.60 253.24 L190.60 253.22 L191.60 253.20 L192.60 253.18 L193.60 253.16 L194.60 253.14 L195.60 253.12 L196.60 253.09 L197.60 253.07 L198.60 253.04 L199.60 253.02 L200.60 252.99 L201.60 252.96 L202.60 252.94 L203.60 252.91 L204.60 252.88 L205.60 252.85 L206.60 252.82 L207.60 252.79 L208.60 252.76 L209.60 252.73 L210.60 252.70 L211.60 252.66 L212.60 252.63 L213.60 252.60 L214.60 252.58 L215.60 252.55 L216.60 252.52 L217.60 252.49 L218.60 252.47 L219.60 252.44 L220.60 252.42 L221.60 252.40 L222.60 252.37 L223.60 252.34 L224.60 252.31 L225.60 252.26 L226.60 252.20 L227.60 252.11 L228.60 251.99 L229.60 251.83 L230.60 251.61 L231.60 251.33 L232.60 250.98 L233.60 250.55 L234.60 250.05 L235.60 249.49 L236.60 248.89 L237.60 248.26 L238.60 247.66 L239.60 247.11 L240.60 246.65 L241.60 246.32 L242.60 246.14 L243.60 246.12 L244.60 246.28 L245.60 246.59 L246.60 247.03 L247.60 247.57 L248.60 248.17 L249.60 248.79 L250.60 249.39 L251.60 249.95 L252.60 250.44 L253.60 250.84 L254.60 251.15 L255.60 251.37 L256.60 251.48 L257.60 251.48 L258.60 251.38 L259.60 251.18 L260.60 250.87 L261.60 250.47 L262.60 249.98 L263.60 249.44 L264.60 248.84 L265.60 248.23 L266.60 247.60 L267.60 246.96 L268.60 246.31 L269.60 245.63 L270.60 244.91 L271.60 244.13 L272.60 243.32 L273.60 242.49 L274.60 241.72 L275.60 241.09 L276.60 240.69 L277.60 240.58 L278.60 240.80 L279.60 241.33 L280.60 242.11 L281.60 243.04 L282.60 244.04 L283.60 245.06 L284.60 246.04 L285.60 246.95 L286.60 247.76 L287.60 248.47 L288.60 249.07 L289.60 249.57 L290.60 249.97 L291.60 250.29 L292.60 250.52 L293.60 250.68 L294.60 250.79 L295.60 250.84 L296.60 250.85 L297.60 250.82 L298.60 250.75 L299.60 250.64 L300.60 250.51 L301.60 250.34 L302.60 250.13 L303.60 249.88 L304.60 249.60 L305.60 249.26 L306.60 248.88 L307.60 248.44 L308.60 247.96 L309.60 247.41 L310.60 246.83 L311.60 246.21 L312.60 245.57 L313.60 244.96 L314.60 244.40 L315.60 243.93 L316.60 243.59 L317.60 243.38 L318.60 243.32 L319.60 243.37 L320.60 243.49 L321.60 243.64 L322.60 243.76 L323.60 243.84 L324.60 243.83 L325.60 243.72 L326.60 243.51 L327.60 243.20 L328.60 242.80 L329.60 242.32 L330.60 241.76 L331.60 241.16 L332.60 240.53 L333.60 239.89 L334.60 239.26 L335.60 238.67 L336.60 238.15 L337.60 237.72 L338.60 237.40 L339.60 237.20 L340.60 237.14 L341.60 237.23 L342.60 237.47 L343.60 237.84 L344.60 238.35 L345.60 238.97 L346.60 239.68 L347.60 240.46 L348.60 241.29 L349.60 242.15 L350.60 243.03 L351.60 243.89 L352.60 244.73 L353.60 245.54 L354.60 246.30 L355.60 247.00 L356.60 247.65 L357.60 248.22 L358.60 248.74 L359.60 249.18 L360.60 249.56 L361.60 249.88 L362.60 250.15 L363.60 250.36 L364.60 250.52 L365.60 250.64 L366.60 250.72 L367.60 250.77 L368.60 250.79 L369.60 250.78 L370.60 250.75 L371.60 250.70 L372.60 250.64 L373.60 250.56 L374.60 250.48 L375.60 250.38 L376.60 250.28 L377.60 250.17 L378.60 250.05 L379.60 249.94 L380.60 249.83 L381.60 249.71 L382.60 249.61 L383.60 249.50 L384.60 249.41 L385.60 249.32 L386.60 249.25 L387.60 249.19 L388.60 249.15 L389.60 249.12 L390.60 249.11 L391.60 249.12 L392.60 249.15 L393.60 249.19 L394.60 249.25 L395.60 249.33 L396.60 249.41 L397.60 249.51 L398.60 249.62 L399.60 249.73 L400.60 249.85 L401.60 249.97 L402.60 250.09 L403.60 250.21 L404.60 250.32 L405.60 250.43 L406.60 250.54 L407.60 250.66 L408.60 250.78 L409.60 250.86 L410.60 250.89 L411.60 250.91 L412.60 250.91 L413.60 250.87 L414.60 250.80 L415.60 250.72 L416.00 250.69 L416.20 250.67 L416.40 250.65 L416.60 250.63 L416.80 250.60 L417.00 250.58 L417.20 250.55 L417.40 250.53 L417.60 250.50 L417.80 250.47 L418.00 250.44 L418.20 250.42 L418.40 250.39 L418.60 250.36 L418.80 250.33 L419.00 250.30 L419.20 250.28 L419.40 250.25 L419.60 250.22 L419.80 250.19 L420.00 250.17 L420.20 250.14 L420.40 250.11 L420.60 250.08 L420.80 250.05 L421.00 250.02 L421.20 249.99 L421.40 249.96 L421.60 249.93 L421.80 249.90 L422.00 249.86 L422.20 249.83 L422.40 249.80 L422.60 249.77 L422.80 249.73 L423.00 249.70 L423.20 249.66 L423.40 249.63 L423.60 249.60 L423.80 249.56 L424.00 249.53 L424.20 249.50 L424.40 249.46 L424.60 249.43 L424.80 249.39 L425.00 249.35 L425.20 249.32 L425.40 249.28 L425.60 249.24 L425.80 249.20 L426.00 249.15 L426.20 249.11 L426.40 249.06 L426.60 249.01 L426.80 248.96 L427.00 248.91 L427.20 248.85 L427.40 248.79 L427.60 248.72 L427.80 248.65 L428.00 248.58 L428.20 248.50 L428.40 248.42 L428.60 248.34 L428.80 248.25 L429.00 248.17 L429.20 248.08 L429.40 247.99 L429.60 247.89 L429.80 247.78 L430.00 247.68 L430.20 247.57 L430.40 247.45 L430.60 247.33 L430.80 247.22 L431.00 247.10 L431.20 246.97 L431.40 246.83 L431.60 246.65 L431.80 246.45 L432.00 246.16 L432.20 245.82 L432.40 245.42 L432.60 244.99 L432.80 244.54 L433.00 244.08 L433.20 243.60 L433.40 243.08 L433.60 242.52 L433.80 241.93 L434.00 241.32 L434.20 240.68 L434.40 240.03 L434.60 239.33 L434.80 238.60 L435.00 237.83 L435.20 237.04 L435.40 236.23 L435.60 235.43 L435.80 234.61 L436.00 233.73 L436.20 232.76 L436.40 231.68 L436.60 230.31 L436.80 228.68 L437.00 226.99 L437.20 225.48 L437.40 224.25 L437.60 223.00 L437.80 221.38 L438.00 219.66 L438.20 218.16 L438.40 216.76 L438.60 215.56 L438.80 214.59 L439.00 213.76 L439.20 212.98 L439.40 212.15 L439.60 211.30 L439.80 210.74 L440.00 210.39 L440.20 210.22 L440.20 210.22 L440.40 210.29 L440.60 210.38 L440.80 210.47 L441.00 210.58 L441.20 210.72 L441.40 210.94 L441.60 211.23 L441.80 211.59 L442.00 211.98 L442.20 212.38 L442.40 212.78 L442.60 213.16 L442.80 213.56 L443.00 214.00 L443.20 214.49 L443.40 215.06 L443.60 215.75 L443.80 216.75 L444.00 217.99 L444.20 219.28 L444.40 220.58 L444.60 221.95 L444.80 223.35 L445.00 224.81 L445.20 226.08 L445.40 227.25 L445.60 228.34 L445.80 229.37 L446.00 230.34 L446.20 231.25 L446.40 232.09 L446.60 232.85 L446.80 233.55 L447.00 234.22 L447.20 234.88 L447.40 235.55 L447.60 236.26 L447.80 237.05 L448.00 237.94 L448.20 238.77 L448.40 239.40 L448.60 239.86 L448.80 240.36 L449.00 241.05 L449.20 241.84 L449.40 242.56 L449.60 243.06 L449.80 243.44 L450.00 243.77 L450.20 244.08 L450.40 244.39 L450.60 244.70 L450.80 245.00 L451.00 245.29 L451.20 245.57 L451.40 245.84 L451.60 246.09 L451.80 246.33 L452.00 246.56 L452.20 246.77 L452.40 246.96 L452.60 247.15 L452.80 247.33 L453.00 247.50 L453.20 247.65 L453.40 247.80 L453.60 247.93 L453.80 248.06 L454.00 248.19 L454.20 248.31 L454.40 248.42 L454.60 248.53 L454.80 248.64 L455.00 248.74 L455.20 248.84 L455.40 248.94 L455.60 249.04 L455.80 249.13 L456.00 249.23 L456.20 249.32 L456.40 249.42 L456.60 249.51 L456.80 249.60 L457.00 249.68 L457.20 249.77 L457.40 249.85 L457.60 249.93 L457.80 250.01 L458.00 250.08 L458.20 250.15 L458.40 250.22 L458.60 250.28 L458.80 250.33 L459.00 250.39 L459.20 250.44 L459.40 250.49 L459.60 250.54 L459.80 250.59 L460.00 250.63 L460.20 250.67 L460.40 250.72 L460.60 250.76 L460.80 250.80 L461.00 250.84 L461.20 250.88 L461.40 250.92 L461.60 250.96 L461.80 251.00 L462.00 251.04 L462.20 251.08 L462.40 251.12 L462.60 251.16 L462.80 251.20 L463.00 251.24 L463.20 251.28 L463.40 251.32 L463.60 251.36 L463.80 251.40 L464.00 251.43 L464.20 251.47 L464.40 251.50 L464.60 251.53 L464.80 251.57 L465.00 251.60 L465.20 251.63 L465.40 251.66 L465.60 251.70 L465.80 251.73 L466.00 251.76 L466.20 251.79 L466.40 251.81 L466.60 251.84 L466.80 251.86 L467.00 251.88 L467.20 251.90 L467.40 251.92 L467.60 251.94 L467.80 251.96 L468.00 251.97 L468.20 251.99 L468.40 252.01 L468.60 252.02 L468.80 252.04 L469.00 252.05 L469.20 252.06 L469.40 252.08 L469.60 252.09 L469.80 252.10 L470.00 252.11 L470.20 252.12 L470.40 252.13 L470.60 252.13 L470.80 252.14 L471.00 252.14 L471.20 252.15 L471.40 252.15 L471.60 252.15 L471.80 252.15 L472.00 252.16 L473.00 252.16 L474.00 252.16 L475.00 252.15 L476.00 252.16 L477.00 252.17 L478.00 252.19 L479.00 252.23 L480.00 252.29 L481.00 252.36 L482.00 252.45 L483.00 252.54 L484.00 252.65 L485.00 252.76 L486.00 252.87 L487.00 252.97 L488.00 253.07 L489.00 253.16 L490.00 253.24 L491.00 253.30 L492.00 253.35 L493.00 253.39 L494.00 253.41 L495.00 253.42 L496.00 253.42 L497.00 253.41 L498.00 253.40 L499.00 253.37 L500.00 253.34 L501.00 253.30 L502.00 253.26 L503.00 253.22 L504.00 253.18 L505.00 253.14 L506.00 253.10 L507.00 253.06 L508.00 253.02 L509.00 252.98 L510.00 252.94 L511.00 252.91 L512.00 252.88 L513.00 252.86 L514.00 252.84 L515.00 252.83 L516.00 252.82 L517.00 252.81 L518.00 252.81 L519.00 252.82 L520.00 252.83 L521.00 252.85 L522.00 252.87 L523.00 252.89 L524.00 252.93 L525.00 252.96 L526.00 253.00 L527.00 253.04 L528.00 253.09 L529.00 253.14 L530.00 253.19 L530.20 253.20" stroke="#008000"/>
<path d="M78.60 263.63 L79.60 263.64 L80.60 263.65 L81.60 263.68 L82.60 263.71 L83.60 263.75 L84.60 263.79 L85.60 263.84 L86.60 263.90 L87.60 263.96 L88.60 264.02 L89.60 264.09 L90.60 264.16 L91.60 264.23 L92.60 264.30 L93.60 264.38 L94.60 264.45 L95.60 264.51 L96.60 264.58 L97.60 264.65 L98.60 264.71 L99.60 264.76 L100.60 264.82 L101.60 264.87 L102.60 264.91 L103.60 264.95 L104.60 264.99 L105.60 265.02 L106.60 265.04 L107.60 265.06 L108.60 265.08 L109.60 265.09 L110.60 265.09 L111.60 265.09 L112.60 265.08 L113.60 265.07 L114.60 265.05 L115.60 265.03 L116.60 265.00 L117.60 264.96 L118.60 264.93 L119.60 264.89 L120.60 264.85 L121.60 264.81 L122.60 264.78 L123.60 264.75 L124.60 264.73 L125.60 264.71 L126.60 264.71 L127.60 264.71 L128.60 264.72 L129.60 264.74 L130.60 264.76 L131.60 264.79 L132.60 264.83 L133.60 264.87 L134.60 264.91 L135.60 264.95 L136.60 264.99 L137.60 265.02 L138.60 265.06 L139.60 265.09 L140.60 265.11 L141.60 265.14 L142.60 265.15 L143.60 265.17 L144.60 265.18 L145.60 265.19 L146.60 265.19 L147.60 265.20 L148.60 265.20 L149.60 265.20 L150.60 265.20 L151.60 265.20 L152.60 265.20 L153.60 265.20 L154.60 265.19 L155.60 265.19 L156.60 265.19 L157.60 265.18 L158.60 265.18 L159.60 265.17 L160.60 265.17 L161.60 265.17 L162.60 265.16 L163.60 265.16 L164.60 265.15 L165.60 265.14 L166.60 265.14 L167.60 265.13 L168.60 265.13 L169.60 265.12 L170.60 265.11 L171.60 265.11 L172.60 265.10 L173.60 265.09 L174.60 265.08 L175.60 265.08 L176.60 265.07 L177.60 265.06 L178.60 265.05 L179.60 265.04 L180.60 265.03 L181.60 265.02 L182.60 265.01 L183.60 265.00 L184.60 264.99 L185.60 264.97 L186.60 264.96 L187.60 264.95 L188.60 264.94 L189.60 264.92 L190.60 264.91 L191.60 264.89 L192.60 264.88 L193.60 264.86 L194.60 264.84 L195.60 264.82 L196.60 264.81 L197.60 264.79 L198.60 264.77 L199.60 264.75 L200.60 264.73 L201.60 264.71 L202.60 264.68 L203.60 264.66 L204.60 264.64 L205.60 264.62 L206.60 264.59 L207.60 264.57 L208.60 264.54 L209.60 264.52 L210.60 264.50 L211.60 264.47 L212.60 264.45 L213.60 264.43 L214.60 264.40 L215.60 264.38 L216.60 264.36 L217.60 264.34 L218.60 264.32 L219.60 264.30 L220.60 264.28 L221.60 264.26 L222.60 264.24 L223.60 264.22 L224.60 264.19 L225.60 264.16 L226.60 264.11 L227.60 264.04 L228.60 263.95 L229.60 263.82 L230.60 263.65 L231.60 263.43 L232.60 263.16 L233.60 262.83 L234.60 262.44 L235.60 262.00 L236.60 261.53 L237.60 261.05 L238.60 260.58 L239.60 260.15 L240.60 259.79 L241.60 259.53 L242.60 259.39 L243.60 259.38 L244.60 259.50 L245.60 259.74 L246.60 260.09 L247.60 260.51 L248.60 260.97 L249.60 261.46 L250.60 261.92 L251.60 262.36 L252.60 262.74 L253.60 263.05 L254.60 263.30 L255.60 263.46 L256.60 263.55 L257.60 263.55 L258.60 263.48 L259.60 263.32 L260.60 263.08 L261.60 262.76 L262.60 262.39 L263.60 261.96 L264.60 261.50 L265.60 261.02 L266.60 260.53 L267.60 260.04 L268.60 259.53 L269.60 259.00 L270.60 258.44 L271.60 257.83 L272.60 257.20 L273.60 256.56 L274.60 255.96 L275.60 255.47 L276.60 255.15 L277.60 255.07 L278.60 255.24 L279.60 255.65 L280.60 256.26 L281.60 256.98 L282.60 257.76 L283.60 258.56 L284.60 259.32 L285.60 260.02 L286.60 260.66 L287.60 261.21 L288.60 261.68 L289.60 262.07 L290.60 262.38 L291.60 262.62 L292.60 262.80 L293.60 262.93 L294.60 263.01 L295.60 263.05 L296.60 263.06 L297.60 263.03 L298.60 262.98 L299.60 262.90 L300.60 262.79 L301.60 262.66 L302.60 262.50 L303.60 262.31 L304.60 262.08 L305.60 261.83 L306.60 261.53 L307.60 261.19 L308.60 260.81 L309.60 260.39 L310.60 259.93 L311.60 259.45 L312.60 258.95 L313.60 258.47 L314.60 258.04 L315.60 257.67 L316.60 257.41 L317.60 257.25 L318.60 257.20 L319.60 257.24 L320.60 257.33 L321.60 257.45 L322.60 257.55 L323.60 257.60 L324.60 257.59 L325.60 257.51 L326.60 257.35 L327.60 257.11 L328.60 256.80 L329.60 256.42 L330.60 255.99 L331.60 255.52 L332.60 255.03 L333.60 254.53 L334.60 254.04 L335.60 253.58 L336.60 253.18 L337.60 252.84 L338.60 252.59 L339.60 252.44 L340.60 252.39 L341.60 252.46 L342.60 252.64 L343.60 252.94 L344.60 253.33 L345.60 253.81 L346.60 254.37 L347.60 254.97 L348.60 255.62 L349.60 256.29 L350.60 256.97 L351.60 257.65 L352.60 258.30 L353.60 258.93 L354.60 259.52 L355.60 260.07 L356.60 260.57 L357.60 261.02 L358.60 261.41 L359.60 261.76 L360.60 262.06 L361.60 262.31 L362.60 262.51 L363.60 262.68 L364.60 262.80 L365.60 262.90 L366.60 262.96 L367.60 263.00 L368.60 263.01 L369.60 263.00 L370.60 262.98 L371.60 262.95 L372.60 262.90 L373.60 262.84 L374.60 262.77 L375.60 262.69 L376.60 262.61 L377.60 262.53 L378.60 262.44 L379.60 262.35 L380.60 262.26 L381.60 262.18 L382.60 262.09 L383.60 262.01 L384.60 261.94 L385.60 261.87 L386.60 261.82 L387.60 261.77 L388.60 261.74 L389.60 261.72 L390.60 261.71 L391.60 261.72 L392.60 261.74 L393.60 261.77 L394.60 261.82 L395.60 261.87 L396.60 261.94 L397.60 262.02 L398.60 262.10 L399.60 262.19 L400.60 262.28 L401.60 262.38 L402.60 262.47 L403.60 262.56 L404.60 262.65 L405.60 262.73 L406.60 262.82 L407.60 262.92 L408.60 263.00 L409.60 263.07 L410.60 263.09 L411.60 263.10 L412.60 263.11 L413.60 263.08 L414.60 263.02 L415.60 262.96 L416.00 262.93 L416.20 262.92 L416.40 262.90 L416.60 262.89 L416.80 262.87 L417.00 262.85 L417.20 262.83 L417.40 262.81 L417.60 262.79 L417.80 262.77 L418.00 262.74 L418.20 262.72 L418.40 262.70 L418.60 262.68 L418.80 262.66 L419.00 262.64 L419.20 262.61 L419.40 262.59 L419.60 262.57 L419.80 262.55 L420.00 262.53 L420.20 262.50 L420.40 262.48 L420.60 262.46 L420.80 262.44 L421.00 262.41 L421.20 262.39 L421.40 262.37 L421.60 262.34 L421.80 262.32 L422.00 262.29 L422.20 262.27 L422.40 262.24 L422.60 262.22 L422.80 262.19 L423.00 262.16 L423.20 262.14 L423.40 262.11 L423.60 262.08 L423.80 262.06 L424.00 262.03 L424.20 262.01 L424.40 261.98 L424.60 261.95 L424.80 261.92 L425.00 261.90 L425.20 261.87 L425.40 261.84 L425.60 261.80 L425.80 261.77 L426.00 261.74 L426.20 261.70 L426.40 261.67 L426.60 261.63 L426.80 261.59 L427.00 261.55 L427.20 261.50 L427.40 261.45 L427.60 261.40 L427.80 261.35 L428.00 261.29 L428.20 261.23 L428.40 261.17 L428.60 261.10 L428.80 261.04 L429.00 260.97 L429.20 260.90 L429.40 260.83 L429.60 260.75 L429.80 260.67 L430.00 260.59 L430.20 260.50 L430.40 260.41 L430.60 260.32 L430.80 260.24 L431.00 260.14 L431.20 260.04 L431.40 259.93 L431.60 259.79 L431.80 259.63 L432.00 259.41 L432.20 259.14 L432.40 258.84 L432.60 258.50 L432.80 258.15 L433.00 257.79 L433.20 257.42 L433.40 257.01 L433.60 256.58 L433.80 256.12 L434.00 255.64 L434.20 255.15 L434.40 254.64 L434.60 254.10 L434.80 253.53 L435.00 252.93 L435.20 252.31 L435.40 251.68 L435.60 251.06 L435.80 250.42 L436.00 249.73 L436.20 248.98 L436.40 248.14 L436.60 247.08 L436.80 245.81 L437.00 244.49 L437.20 243.31 L437.40 242.36 L437.60 241.38 L437.80 240.12 L438.00 238.79 L438.20 237.62 L438.40 236.53 L438.60 235.59 L438.80 234.84 L439.00 234.20 L439.20 233.59 L439.40 232.94 L439.60 232.28 L439.80 231.85 L440.00 231.57 L440.20 231.44 L440.20 231.44 L440.40 231.50 L440.60 231.56 L440.80 231.64 L441.00 231.72 L441.20 231.83 L441.40 232.00 L441.60 232.23 L441.80 232.50 L442.00 232.81 L442.20 233.12 L442.40 233.43 L442.60 233.73 L442.80 234.04 L443.00 234.38 L443.20 234.76 L443.40 235.21 L443.60 235.74 L443.80 236.52 L444.00 237.49 L444.20 238.49 L444.40 239.50 L444.60 240.57 L444.80 241.66 L445.00 242.80 L445.20 243.79 L445.40 244.69 L445.60 245.54 L445.80 246.35 L446.00 247.10 L446.20 247.80 L446.40 248.46 L446.60 249.05 L446.80 249.60 L447.00 250.12 L447.20 250.63 L447.40 251.15 L447.60 251.71 L447.80 252.32 L448.00 253.01 L448.20 253.66 L448.40 254.15 L448.60 254.51 L448.80 254.89 L449.00 255.43 L449.20 256.05 L449.40 256.61 L449.60 257.00 L449.80 257.29 L450.00 257.55 L450.20 257.79 L450.40 258.03 L450.60 258.27 L450.80 258.51 L451.00 258.73 L451.20 258.95 L451.40 259.16 L451.60 259.36 L451.80 259.55 L452.00 259.72 L452.20 259.88 L452.40 260.04 L452.60 260.18 L452.80 260.32 L453.00 260.45 L453.20 260.57 L453.40 260.68 L453.60 260.79 L453.80 260.89 L454.00 260.99 L454.20 261.08 L454.40 261.17 L454.60 261.26 L454.80 261.34 L455.00 261.42 L455.20 261.50 L455.40 261.57 L455.60 261.65 L455.80 261.72 L456.00 261.80 L456.20 261.87 L456.40 261.94 L456.60 262.01 L456.80 262.08 L457.00 262.15 L457.20 262.22 L457.40 262.28 L457.60 262.35 L457.80 262.40 L458.00 262.46 L458.20 262.52 L458.40 262.57 L458.60 262.61 L458.80 262.66 L459.00 262.70 L459.20 262.74 L459.40 262.78 L459.60 262.82 L459.80 262.85 L460.00 262.89 L460.20 262.92 L460.40 262.96 L460.60 262.99 L460.80 263.02 L461.00 263.05 L461.20 263.08 L461.40 263.11 L461.60 263.15 L461.80 263.18 L462.00 263.21 L462.20 263.24 L462.40 263.27 L462.60 263.30 L462.80 263.34 L463.00 263.37 L463.20 263.40 L463.40 263.43 L463.60 263.46 L463.80 263.48 L464.00 263.51 L464.20 263.54 L464.40 263.57 L464.60 263.59 L464.80 263.62 L465.00 263.64 L465.20 263.67 L465.40 263.69 L465.60 263.72 L465.80 263.74 L466.00 263.77 L466.20 263.79 L466.40 263.81 L466.60 263.83 L466.80 263.85 L467.00 263.87 L467.20 263.88 L467.40 263.89 L467.60 263.91 L467.80 263.92 L468.00 263.93 L468.20 263.95 L468.40 263.96 L468.60 263.97 L468.80 263.98 L469.00 263.99 L469.20 264.00 L469.40 264.01 L469.60 264.02 L469.80 264.03 L470.00 264.04 L470.20 264.05 L470.40 264.05 L470.60 264.06 L470.80 264.06 L471.00 264.07 L471.20 264.07 L471.40 264.07 L471.60 264.07 L471.80 264.08 L472.00 264.08 L473.00 264.08 L474.00 264.08 L475.00 264.07 L476.00 264.08 L477.00 264.09 L478.00 264.11 L479.00 264.14 L480.00 264.18 L481.00 264.24 L482.00 264.30 L483.00 264.38 L484.00 264.46 L485.00 264.54 L486.00 264.63 L487.00 264.71 L488.00 264.79 L489.00 264.86 L490.00 264.92 L491.00 264.97 L492.00 265.01 L493.00 265.04 L494.00 265.06 L495.00 265.06 L496.00 265.06 L497.00 265.06 L498.00 265.04 L499.00 265.02 L500.00 265.00 L501.00 264.97 L502.00 264.94 L503.00 264.91 L504.00 264.87 L505.00 264.84 L506.00 264.81 L507.00 264.78 L508.00 264.75 L509.00 264.72 L510.00 264.69 L511.00 264.66 L512.00 264.64 L513.00 264.62 L514.00 264.61 L515.00 264.60 L516.00 264.59 L517.00 264.59 L518.00 264.59 L519.00 264.59 L520.00 264.60 L521.00 264.61 L522.00 264.63 L523.00 264.65 L524.00 264.67 L525.00 264.70 L526.00 264.73 L527.00 264.77 L528.00 264.80 L529.00 264.84 L530.00 264.88 L530.20 264.89" stroke="#00008c"/>
<path d="M78.60 276.15 L79.60 276.16 L80.60 276.17 L81.60 276.19 L82.60 276.22 L83.60 276.25 L84.60 276.29 L85.60 276.33 L86.60 276.38 L87.60 276.43 L88.60 276.49 L89.60 276.55 L90.60 276.61 L91.60 276.67 L92.60 276.73 L93.60 276.79 L94.60 276.85 L95.60 276.91 L96.60 276.97 L97.60 277.02 L98.60 277.07 L99.60 277.12 L100.60 277.17 L101.60 277.21 L102.60 277.25 L103.60 277.29 L104.60 277.32 L105.60 277.34 L106.60 277.37 L107.60 277.38 L108.60 277.40 L109.60 277.40 L110.60 277.41 L111.60 277.41 L112.60 277.40 L113.60 277.39 L114.60 277.37 L115.60 277.35 L116.60 277.32 L117.60 277.30 L118.60 277.26 L119.60 277.23 L120.60 277.20 L121.60 277.17 L122.60 277.14 L123.60 277.11 L124.60 277.10 L125.60 277.08 L126.60 277.08 L127.60 277.08 L128.60 277.09 L129.60 277.10 L130.60 277.12 L131.60 277.15 L132.60 277.18 L133.60 277.21 L134.60 277.25 L135.60 277.28 L136.60 277.32 L137.60 277.35 L138.60 277.38 L139.60 277.40 L140.60 277.43 L141.60 277.44 L142.60 277.46 L143.60 277.47 L144.60 277.48 L145.60 277.49 L146.60 277.50 L147.60 277.50 L148.60 277.50 L149.60 277.50 L150.60 277.50 L151.60 277.50 L152.60 277.50 L153.60 277.50 L154.60 277.49 L155.60 277.49 L156.60 277.49 L157.60 277.48 L158.60 277.48 L159.60 277.48 L160.60 277.47 L161.60 277.47 L162.60 277.47 L163.60 277.46 L164.60 277.46 L165.60 277.45 L166.60 277.45 L167.60 277.44 L168.60 277.44 L169.60 277.43 L170.60 277.43 L171.60 277.42 L172.60 277.41 L173.60 277.41 L174.60 277.40 L175.60 277.39 L176.60 277.39 L177.60 277.38 L178.60 277.37 L179.60 277.36 L180.60 277.35 L181.60 277.35 L182.60 277.34 L183.60 277.33 L184.60 277.32 L185.60 277.31 L186.60 277.30 L187.60 277.28 L188.60 277.27 L189.60 277.26 L190.60 277.25 L191.60 277.23 L192.60 277.22 L193.60 277.21 L194.60 277.19 L195.60 277.18 L196.60 277.16 L197.60 277.14 L198.60 277.13 L199.60 277.11 L200.60 277.09 L201.60 277.07 L202.60 277.06 L203.60 277.04 L204.60 277.02 L205.60 277.00 L206.60 276.98 L207.60 276.96 L208.60 276.94 L209.60 276.92 L210.60 276.89 L211.60 276.87 L212.60 276.85 L213.60 276.83 L214.60 276.81 L215.60 276.79 L216.60 276.78 L217.60 276.76 L218.60 276.74 L219.60 276.73 L220.60 276.71 L221.60 276.69 L222.60 276.68 L223.60 276.66 L224.60 276.63 L225.60 276.60 L226.60 276.56 L227.60 276.50 L228.60 276.42 L229.60 276.31 L230.60 276.17 L231.60 275.98 L232.60 275.74 L233.60 275.46 L234.60 275.12 L235.60 274.75 L236.60 274.34 L237.60 273.93 L238.60 273.52 L239.60 273.15 L240.60 272.85 L241.60 272.62 L242.60 272.50 L243.60 272.50 L244.60 272.60 L245.60 272.81 L246.60 273.10 L247.60 273.46 L248.60 273.87 L249.60 274.28 L250.60 274.68 L251.60 275.06 L252.60 275.38 L253.60 275.65 L254.60 275.86 L255.60 276.00 L256.60 276.08 L257.60 276.08 L258.60 276.02 L259.60 275.88 L260.60 275.67 L261.60 275.41 L262.60 275.08 L263.60 274.71 L264.60 274.32 L265.60 273.90 L266.60 273.48 L267.60 273.06 L268.60 272.62 L269.60 272.17 L270.60 271.68 L271.60 271.16 L272.60 270.62 L273.60 270.07 L274.60 269.55 L275.60 269.13 L276.60 268.86 L277.60 268.78 L278.60 268.93 L279.60 269.29 L280.60 269.81 L281.60 270.43 L282.60 271.10 L283.60 271.79 L284.60 272.44 L285.60 273.05 L286.60 273.59 L287.60 274.07 L288.60 274.47 L289.60 274.80 L290.60 275.07 L291.60 275.28 L292.60 275.44 L293.60 275.55 L294.60 275.62 L295.60 275.65 L296.60 275.66 L297.60 275.64 L298.60 275.59 L299.60 275.52 L300.60 275.43 L301.60 275.32 L302.60 275.18 L303.60 275.01 L304.60 274.82 L305.60 274.60 L306.60 274.34 L307.60 274.05 L308.60 273.72 L309.60 273.36 L310.60 272.97 L311.60 272.55 L312.60 272.13 L313.60 271.71 L314.60 271.34 L315.60 271.03 L316.60 270.80 L317.60 270.66 L318.60 270.62 L319.60 270.65 L320.60 270.73 L321.60 270.83 L322.60 270.92 L323.60 270.96 L324.60 270.96 L325.60 270.89 L326.60 270.75 L327.60 270.54 L328.60 270.27 L329.60 269.95 L330.60 269.58 L331.60 269.17 L332.60 268.75 L333.60 268.32 L334.60 267.90 L335.60 267.51 L336.60 267.16 L337.60 266.87 L338.60 266.65 L339.60 266.52 L340.60 266.48 L341.60 266.54 L342.60 266.70 L343.60 266.95 L344.60 267.29 L345.60 267.71 L346.60 268.18 L347.60 268.70 L348.60 269.26 L349.60 269.84 L350.60 270.42 L351.60 271.00 L352.60 271.57 L353.60 272.11 L354.60 272.61 L355.60 273.08 L356.60 273.51 L357.60 273.90 L358.60 274.24 L359.60 274.54 L360.60 274.80 L361.60 275.01 L362.60 275.19 L363.60 275.33 L364.60 275.44 L365.60 275.52 L366.60 275.57 L367.60 275.60 L368.60 275.62 L369.60 275.61 L370.60 275.59 L371.60 275.56 L372.60 275.52 L373.60 275.47 L374.60 275.41 L375.60 275.34 L376.60 275.28 L377.60 275.20 L378.60 275.13 L379.60 275.05 L380.60 274.97 L381.60 274.90 L382.60 274.83 L383.60 274.76 L384.60 274.69 L385.60 274.64 L386.60 274.59 L387.60 274.55 L388.60 274.52 L389.60 274.50 L390.60 274.50 L391.60 274.50 L392.60 274.52 L393.60 274.55 L394.60 274.59 L395.60 274.64 L396.60 274.70 L397.60 274.76 L398.60 274.83 L399.60 274.91 L400.60 274.99 L401.60 275.07 L402.60 275.15 L403.60 275.23 L404.60 275.31 L405.60 275.38 L406.60 275.45 L407.60 275.53 L408.60 275.61 L409.60 275.67 L410.60 275.69 L411.60 275.70 L412.60 275.70 L413.60 275.67 L414.60 275.63 L415.60 275.57 L416.00 275.55 L416.20 275.54 L416.40 275.52 L416.60 275.51 L416.80 275.49 L417.00 275.48 L417.20 275.46 L417.40 275.44 L417.60 275.42 L417.80 275.41 L418.00 275.39 L418.20 275.37 L418.40 275.35 L418.60 275.33 L418.80 275.31 L419.00 275.29 L419.20 275.28 L419.40 275.26 L419.60 275.24 L419.80 275.22 L420.00 275.20 L420.20 275.18 L420.40 275.16 L420.60 275.14 L420.80 275.12 L421.00 275.10 L421.20 275.08 L421.40 275.06 L421.60 275.04 L421.80 275.02 L422.00 275.00 L422.20 274.98 L422.40 274.96 L422.60 274.93 L422.80 274.91 L423.00 274.89 L423.20 274.87 L423.40 274.84 L423.60 274.82 L423.80 274.80 L424.00 274.78 L424.20 274.75 L424.40 274.73 L424.60 274.71 L424.80 274.68 L425.00 274.66 L425.20 274.63 L425.40 274.61 L425.60 274.58 L425.80 274.55 L426.00 274.52 L426.20 274.49 L426.40 274.46 L426.60 274.43 L426.80 274.40 L427.00 274.36 L427.20 274.32 L427.40 274.28 L427.60 274.23 L427.80 274.19 L428.00 274.14 L428.20 274.09 L428.40 274.03 L428.60 273.98 L428.80 273.92 L429.00 273.86 L429.20 273.81 L429.40 273.74 L429.60 273.68 L429.80 273.61 L430.00 273.54 L430.20 273.46 L430.40 273.38 L430.60 273.31 L430.80 273.23 L431.00 273.15 L431.20 273.06 L431.40 272.97 L431.60 272.85 L431.80 272.71 L432.00 272.52 L432.20 272.29 L432.40 272.03 L432.60 271.74 L432.80 271.43 L433.00 271.13 L433.20 270.80 L433.40 270.46 L433.60 270.08 L433.80 269.69 L434.00 269.28 L434.20 268.85 L434.40 268.41 L434.60 267.95 L434.80 267.46 L435.00 266.95 L435.20 266.42 L435.40 265.88 L435.60 265.34 L435.80 264.79 L436.00 264.20 L436.20 263.55 L436.40 262.83 L436.60 261.91 L436.80 260.82 L437.00 259.69 L437.20 258.68 L437.40 257.85 L437.60 257.02 L437.80 255.93 L438.00 254.79 L438.20 253.78 L438.40 252.84 L438.60 252.04 L438.80 251.39 L439.00 250.83 L439.20 250.31 L439.40 249.76 L439.60 249.18 L439.80 248.81 L440.00 248.58 L440.20 248.47 L440.20 248.47 L440.40 248.51 L440.60 248.57 L440.80 248.63 L441.00 248.70 L441.20 248.80 L441.40 248.94 L441.60 249.14 L441.80 249.38 L442.00 249.64 L442.20 249.91 L442.40 250.17 L442.60 250.43 L442.80 250.70 L443.00 250.99 L443.20 251.32 L443.40 251.70 L443.60 252.16 L443.80 252.83 L444.00 253.66 L444.20 254.53 L444.40 255.40 L444.60 256.32 L444.80 257.25 L445.00 258.23 L445.20 259.08 L445.40 259.86 L445.60 260.59 L445.80 261.28 L446.00 261.93 L446.20 262.54 L446.40 263.10 L446.60 263.61 L446.80 264.08 L447.00 264.53 L447.20 264.97 L447.40 265.42 L447.60 265.89 L447.80 266.42 L448.00 267.01 L448.20 267.58 L448.40 267.99 L448.60 268.30 L448.80 268.64 L449.00 269.10 L449.20 269.63 L449.40 270.11 L449.60 270.44 L449.80 270.70 L450.00 270.92 L450.20 271.13 L450.40 271.34 L450.60 271.54 L450.80 271.74 L451.00 271.94 L451.20 272.13 L451.40 272.31 L451.60 272.48 L451.80 272.64 L452.00 272.79 L452.20 272.93 L452.40 273.06 L452.60 273.18 L452.80 273.30 L453.00 273.41 L453.20 273.52 L453.40 273.62 L453.60 273.71 L453.80 273.79 L454.00 273.88 L454.20 273.96 L454.40 274.03 L454.60 274.11 L454.80 274.18 L455.00 274.25 L455.20 274.32 L455.40 274.38 L455.60 274.45 L455.80 274.51 L456.00 274.57 L456.20 274.64 L456.40 274.70 L456.60 274.76 L456.80 274.82 L457.00 274.88 L457.20 274.94 L457.40 274.99 L457.60 275.04 L457.80 275.10 L458.00 275.14 L458.20 275.19 L458.40 275.23 L458.60 275.28 L458.80 275.31 L459.00 275.35 L459.20 275.39 L459.40 275.42 L459.60 275.45 L459.80 275.48 L460.00 275.51 L460.20 275.54 L460.40 275.57 L460.60 275.60 L460.80 275.63 L461.00 275.65 L461.20 275.68 L461.40 275.71 L461.60 275.73 L461.80 275.76 L462.00 275.79 L462.20 275.81 L462.40 275.84 L462.60 275.87 L462.80 275.90 L463.00 275.92 L463.20 275.95 L463.40 275.97 L463.60 276.00 L463.80 276.02 L464.00 276.05 L464.20 276.07 L464.40 276.09 L464.60 276.12 L464.80 276.14 L465.00 276.16 L465.20 276.18 L465.40 276.20 L465.60 276.23 L465.80 276.25 L466.00 276.27 L466.20 276.29 L466.40 276.30 L466.60 276.32 L466.80 276.34 L467.00 276.35 L467.20 276.37 L467.40 276.38 L467.60 276.39 L467.80 276.40 L468.00 276.41 L468.20 276.42 L468.40 276.43 L468.60 276.44 L468.80 276.45 L469.00 276.46 L469.20 276.47 L469.40 276.48 L469.60 276.49 L469.80 276.50 L470.00 276.50 L470.20 276.51 L470.40 276.51 L470.60 276.52 L470.80 276.52 L471.00 276.52 L471.20 276.53 L471.40 276.53 L471.60 276.53 L471.80 276.53 L472.00 276.53 L473.00 276.54 L474.00 276.53 L475.00 276.53 L476.00 276.53 L477.00 276.54 L478.00 276.56 L479.00 276.59 L480.00 276.62 L481.00 276.67 L482.00 276.73 L483.00 276.79 L484.00 276.86 L485.00 276.94 L486.00 277.01 L487.00 277.08 L488.00 277.15 L489.00 277.21 L490.00 277.26 L491.00 277.30 L492.00 277.34 L493.00 277.36 L494.00 277.38 L495.00 277.38 L496.00 277.38 L497.00 277.38 L498.00 277.36 L499.00 277.35 L500.00 277.33 L501.00 277.30 L502.00 277.28 L503.00 277.25 L504.00 277.22 L505.00 277.19 L506.00 277.16 L507.00 277.14 L508.00 277.11 L509.00 277.08 L510.00 277.06 L511.00 277.04 L512.00 277.02 L513.00 277.01 L514.00 276.99 L515.00 276.98 L516.00 276.98 L517.00 276.97 L518.00 276.97 L519.00 276.98 L520.00 276.98 L521.00 277.00 L522.00 277.01 L523.00 277.03 L524.00 277.05 L525.00 277.07 L526.00 277.10 L527.00 277.13 L528.00 277.16 L529.00 277.19 L530.00 277.23 L530.20 277.23" stroke="#8a00f5"/>
<path d="M78.60 289.20 L79.60 289.20 L80.60 289.21 L81.60 289.22 L82.60 289.24 L83.60 289.25 L84.60 289.27 L85.60 289.29 L86.60 289.32 L87.60 289.35 L88.60 289.38 L89.60 289.41 L90.60 289.44 L91.60 289.47 L92.60 289.50 L93.60 289.53 L94.60 289.56 L95.60 289.59 L96.60 289.62 L97.60 289.65 L98.60 289.68 L99.60 289.71 L100.60 289.73 L101.60 289.75 L102.60 289.77 L103.60 289.79 L104.60 289.80 L105.60 289.82 L106.60 289.83 L107.60 289.84 L108.60 289.85 L109.60 289.85 L110.60 289.85 L111.60 289.85 L112.60 289.85 L113.60 289.84 L114.60 289.83 L115.60 289.82 L116.60 289.81 L117.60 289.79 L118.60 289.78 L119.60 289.76 L120.60 289.74 L121.60 289.73 L122.60 289.71 L123.60 289.70 L124.60 289.69 L125.60 289.68 L126.60 289.68 L127.60 289.68 L128.60 289.69 L129.60 289.69 L130.60 289.70 L131.60 289.72 L132.60 289.73 L133.60 289.75 L134.60 289.77 L135.60 289.79 L136.60 289.80 L137.60 289.82 L138.60 289.84 L139.60 289.85 L140.60 289.86 L141.60 289.87 L142.60 289.88 L143.60 289.89 L144.60 289.89 L145.60 289.90 L146.60 289.90 L147.60 289.90 L148.60 289.90 L149.60 289.90 L150.60 289.90 L151.60 289.90 L152.60 289.90 L153.60 289.90 L154.60 289.90 L155.60 289.90 L156.60 289.89 L157.60 289.89 L158.60 289.89 L159.60 289.89 L160.60 289.89 L161.60 289.88 L162.60 289.88 L163.60 289.88 L164.60 289.88 L165.60 289.88 L166.60 289.87 L167.60 289.87 L168.60 289.87 L169.60 289.86 L170.60 289.86 L171.60 289.86 L172.60 289.86 L173.60 289.85 L174.60 289.85 L175.60 289.85 L176.60 289.84 L177.60 289.84 L178.60 289.83 L179.60 289.83 L180.60 289.82 L181.60 289.82 L182.60 289.82 L183.60 289.81 L184.60 289.81 L185.60 289.80 L186.60 289.79 L187.60 289.79 L188.60 289.78 L189.60 289.78 L190.60 289.77 L191.60 289.76 L192.60 289.76 L193.60 289.75 L194.60 289.74 L195.60 289.73 L196.60 289.72 L197.60 289.72 L198.60 289.71 L199.60 289.70 L200.60 289.69 L201.60 289.68 L202.60 289.67 L203.60 289.66 L204.60 289.65 L205.60 289.64 L206.60 289.63 L207.60 289.62 L208.60 289.61 L209.60 289.60 L210.60 289.59 L211.60 289.58 L212.60 289.57 L213.60 289.55 L214.60 289.54 L215.60 289.53 L216.60 289.53 L217.60 289.52 L218.60 289.51 L219.60 289.50 L220.60 289.49 L221.60 289.48 L222.60 289.47 L223.60 289.46 L224.60 289.45 L225.60 289.44 L226.60 289.41 L227.60 289.38 L228.60 289.34 L229.60 289.29 L230.60 289.21 L231.60 289.11 L232.60 288.99 L233.60 288.84 L234.60 288.67 L235.60 288.47 L236.60 288.27 L237.60 288.05 L238.60 287.84 L239.60 287.65 L240.60 287.49 L241.60 287.37 L242.60 287.31 L243.60 287.31 L244.60 287.36 L245.60 287.47 L246.60 287.62 L247.60 287.81 L248.60 288.02 L249.60 288.23 L250.60 288.44 L251.60 288.63 L252.60 288.80 L253.60 288.94 L254.60 289.05 L255.60 289.13 L256.60 289.16 L257.60 289.17 L258.60 289.13 L259.60 289.06 L260.60 288.95 L261.60 288.81 L262.60 288.65 L263.60 288.46 L264.60 288.25 L265.60 288.04 L266.60 287.82 L267.60 287.60 L268.60 287.37 L269.60 287.14 L270.60 286.89 L271.60 286.62 L272.60 286.33 L273.60 286.05 L274.60 285.78 L275.60 285.56 L276.60 285.42 L277.60 285.38 L278.60 285.46 L279.60 285.65 L280.60 285.91 L281.60 286.24 L282.60 286.59 L283.60 286.94 L284.60 287.28 L285.60 287.59 L286.60 287.87 L287.60 288.12 L288.60 288.33 L289.60 288.50 L290.60 288.64 L291.60 288.75 L292.60 288.83 L293.60 288.89 L294.60 288.92 L295.60 288.94 L296.60 288.95 L297.60 288.93 L298.60 288.91 L299.60 288.88 L300.60 288.83 L301.60 288.77 L302.60 288.70 L303.60 288.61 L304.60 288.51 L305.60 288.40 L306.60 288.26 L307.60 288.11 L308.60 287.94 L309.60 287.75 L310.60 287.55 L311.60 287.34 L312.60 287.12 L313.60 286.90 L314.60 286.71 L315.60 286.55 L316.60 286.43 L317.60 286.36 L318.60 286.34 L319.60 286.35 L320.60 286.39 L321.60 286.45 L322.60 286.49 L323.60 286.51 L324.60 286.51 L325.60 286.47 L326.60 286.40 L327.60 286.30 L328.60 286.16 L329.60 285.99 L330.60 285.80 L331.60 285.59 L332.60 285.37 L333.60 285.14 L334.60 284.93 L335.60 284.72 L336.60 284.54 L337.60 284.39 L338.60 284.28 L339.60 284.21 L340.60 284.19 L341.60 284.22 L342.60 284.31 L343.60 284.44 L344.60 284.61 L345.60 284.83 L346.60 285.07 L347.60 285.34 L348.60 285.63 L349.60 285.93 L350.60 286.23 L351.60 286.53 L352.60 286.83 L353.60 287.11 L354.60 287.37 L355.60 287.61 L356.60 287.84 L357.60 288.04 L358.60 288.21 L359.60 288.37 L360.60 288.50 L361.60 288.61 L362.60 288.70 L363.60 288.78 L364.60 288.83 L365.60 288.87 L366.60 288.90 L367.60 288.92 L368.60 288.92 L369.60 288.92 L370.60 288.91 L371.60 288.90 L372.60 288.87 L373.60 288.85 L374.60 288.82 L375.60 288.78 L376.60 288.75 L377.60 288.71 L378.60 288.67 L379.60 288.63 L380.60 288.59 L381.60 288.55 L382.60 288.51 L383.60 288.48 L384.60 288.45 L385.60 288.42 L386.60 288.39 L387.60 288.37 L388.60 288.36 L389.60 288.35 L390.60 288.34 L391.60 288.35 L392.60 288.36 L393.60 288.37 L394.60 288.39 L395.60 288.42 L396.60 288.45 L397.60 288.48 L398.60 288.52 L399.60 288.56 L400.60 288.60 L401.60 288.64 L402.60 288.68 L403.60 288.72 L404.60 288.76 L405.60 288.80 L406.60 288.84 L407.60 288.88 L408.60 288.92 L409.60 288.95 L410.60 288.96 L411.60 288.97 L412.60 288.97 L413.60 288.95 L414.60 288.93 L415.60 288.90 L416.00 288.89 L416.20 288.88 L416.40 288.88 L416.60 288.87 L416.80 288.86 L417.00 288.85 L417.20 288.84 L417.40 288.83 L417.60 288.82 L417.80 288.82 L418.00 288.81 L418.20 288.80 L418.40 288.79 L418.60 288.78 L418.80 288.77 L419.00 288.76 L419.20 288.75 L419.40 288.74 L419.60 288.73 L419.80 288.72 L420.00 288.71 L420.20 288.70 L420.40 288.69 L420.60 288.68 L420.80 288.67 L421.00 288.66 L421.20 288.65 L421.40 288.64 L421.60 288.63 L421.80 288.62 L422.00 288.60 L422.20 288.59 L422.40 288.58 L422.60 288.57 L422.80 288.56 L423.00 288.55 L423.20 288.54 L423.40 288.52 L423.60 288.51 L423.80 288.50 L424.00 288.49 L424.20 288.48 L424.40 288.46 L424.60 288.45 L424.80 288.44 L425.00 288.43 L425.20 288.41 L425.40 288.40 L425.60 288.39 L425.80 288.37 L426.00 288.36 L426.20 288.34 L426.40 288.33 L426.60 288.31 L426.80 288.29 L427.00 288.27 L427.20 288.25 L427.40 288.23 L427.60 288.21 L427.80 288.18 L428.00 288.16 L428.20 288.13 L428.40 288.10 L428.60 288.08 L428.80 288.05 L429.00 288.02 L429.20 287.99 L429.40 287.95 L429.60 287.92 L429.80 287.88 L430.00 287.85 L430.20 287.81 L430.40 287.77 L430.60 287.73 L430.80 287.69 L431.00 287.65 L431.20 287.60 L431.40 287.55 L431.60 287.49 L431.80 287.42 L432.00 287.32 L432.20 287.20 L432.40 287.06 L432.60 286.91 L432.80 286.76 L433.00 286.60 L433.20 286.43 L433.40 286.25 L433.60 286.06 L433.80 285.85 L434.00 285.64 L434.20 285.42 L434.40 285.19 L434.60 284.95 L434.80 284.70 L435.00 284.43 L435.20 284.16 L435.40 283.88 L435.60 283.60 L435.80 283.31 L436.00 283.01 L436.20 282.67 L436.40 282.30 L436.60 281.82 L436.80 281.26 L437.00 280.67 L437.20 280.15 L437.40 279.72 L437.60 279.29 L437.80 278.73 L438.00 278.13 L438.20 277.61 L438.40 277.12 L438.60 276.71 L438.80 276.37 L439.00 276.08 L439.20 275.81 L439.40 275.53 L439.60 275.23 L439.80 275.04 L440.00 274.92 L440.20 274.86 L440.20 274.86 L440.40 274.88 L440.60 274.91 L440.80 274.94 L441.00 274.98 L441.20 275.03 L441.40 275.11 L441.60 275.21 L441.80 275.33 L442.00 275.47 L442.20 275.61 L442.40 275.74 L442.60 275.88 L442.80 276.02 L443.00 276.17 L443.20 276.34 L443.40 276.54 L443.60 276.77 L443.80 277.12 L444.00 277.55 L444.20 278.00 L444.40 278.45 L444.60 278.93 L444.80 279.41 L445.00 279.92 L445.20 280.36 L445.40 280.76 L445.60 281.14 L445.80 281.50 L446.00 281.83 L446.20 282.15 L446.40 282.44 L446.60 282.70 L446.80 282.95 L447.00 283.18 L447.20 283.41 L447.40 283.64 L447.60 283.89 L447.80 284.16 L448.00 284.47 L448.20 284.76 L448.40 284.97 L448.60 285.14 L448.80 285.31 L449.00 285.55 L449.20 285.82 L449.40 286.07 L449.60 286.24 L449.80 286.38 L450.00 286.49 L450.20 286.60 L450.40 286.71 L450.60 286.81 L450.80 286.92 L451.00 287.02 L451.20 287.12 L451.40 287.21 L451.60 287.30 L451.80 287.38 L452.00 287.46 L452.20 287.53 L452.40 287.60 L452.60 287.66 L452.80 287.73 L453.00 287.78 L453.20 287.84 L453.40 287.89 L453.60 287.94 L453.80 287.98 L454.00 288.02 L454.20 288.06 L454.40 288.10 L454.60 288.14 L454.80 288.18 L455.00 288.22 L455.20 288.25 L455.40 288.28 L455.60 288.32 L455.80 288.35 L456.00 288.38 L456.20 288.42 L456.40 288.45 L456.60 288.48 L456.80 288.51 L457.00 288.54 L457.20 288.57 L457.40 288.60 L457.60 288.63 L457.80 288.65 L458.00 288.68 L458.20 288.70 L458.40 288.73 L458.60 288.75 L458.80 288.77 L459.00 288.79 L459.20 288.80 L459.40 288.82 L459.60 288.84 L459.80 288.85 L460.00 288.87 L460.20 288.89 L460.40 288.90 L460.60 288.91 L460.80 288.93 L461.00 288.94 L461.20 288.96 L461.40 288.97 L461.60 288.98 L461.80 289.00 L462.00 289.01 L462.20 289.03 L462.40 289.04 L462.60 289.06 L462.80 289.07 L463.00 289.08 L463.20 289.10 L463.40 289.11 L463.60 289.12 L463.80 289.14 L464.00 289.15 L464.20 289.16 L464.40 289.17 L464.60 289.18 L464.80 289.19 L465.00 289.21 L465.20 289.22 L465.40 289.23 L465.60 289.24 L465.80 289.25 L466.00 289.26 L466.20 289.27 L466.40 289.28 L466.60 289.29 L466.80 289.30 L467.00 289.31 L467.20 289.31 L467.40 289.32 L467.60 289.32 L467.80 289.33 L468.00 289.34 L468.20 289.34 L468.40 289.35 L468.60 289.35 L468.80 289.36 L469.00 289.36 L469.20 289.37 L469.40 289.37 L469.60 289.38 L469.80 289.38 L470.00 289.38 L470.20 289.39 L470.40 289.39 L470.60 289.39 L470.80 289.39 L471.00 289.39 L471.20 289.40 L471.40 289.40 L471.60 289.40 L471.80 289.40 L472.00 289.40 L473.00 289.40 L474.00 289.40 L475.00 289.40 L476.00 289.40 L477.00 289.40 L478.00 289.41 L479.00 289.43 L480.00 289.45 L481.00 289.47 L482.00 289.50 L483.00 289.53 L484.00 289.57 L485.00 289.61 L486.00 289.65 L487.00 289.68 L488.00 289.72 L489.00 289.75 L490.00 289.77 L491.00 289.80 L492.00 289.81 L493.00 289.83 L494.00 289.84 L495.00 289.84 L496.00 289.84 L497.00 289.84 L498.00 289.83 L499.00 289.82 L500.00 289.81 L501.00 289.80 L502.00 289.78 L503.00 289.77 L504.00 289.75 L505.00 289.74 L506.00 289.73 L507.00 289.71 L508.00 289.70 L509.00 289.68 L510.00 289.67 L511.00 289.66 L512.00 289.65 L513.00 289.64 L514.00 289.64 L515.00 289.63 L516.00 289.63 L517.00 289.63 L518.00 289.63 L519.00 289.63 L520.00 289.63 L521.00 289.64 L522.00 289.65 L523.00 289.66 L524.00 289.67 L525.00 289.68 L526.00 289.69 L527.00 289.71 L528.00 289.72 L529.00 289.74 L530.00 289.76 L530.20 289.76" stroke="#a00096"/>
<path d="M78.60 302.14 L79.60 302.14 L80.60 302.14 L81.60 302.15 L82.60 302.16 L83.60 302.17 L84.60 302.18 L85.60 302.20 L86.60 302.22 L87.60 302.23 L88.60 302.25 L89.60 302.27 L90.60 302.29 L91.60 302.31 L92.60 302.34 L93.60 302.36 L94.60 302.38 L95.60 302.40 L96.60 302.42 L97.60 302.44 L98.60 302.45 L99.60 302.47 L100.60 302.49 L101.60 302.50 L102.60 302.51 L103.60 302.53 L104.60 302.54 L105.60 302.55 L106.60 302.55 L107.60 302.56 L108.60 302.56 L109.60 302.57 L110.60 302.57 L111.60 302.57 L112.60 302.57 L113.60 302.56 L114.60 302.56 L115.60 302.55 L116.60 302.54 L117.60 302.53 L118.60 302.52 L119.60 302.51 L120.60 302.50 L121.60 302.49 L122.60 302.48 L123.60 302.47 L124.60 302.46 L125.60 302.46 L126.60 302.45 L127.60 302.46 L128.60 302.46 L129.60 302.46 L130.60 302.47 L131.60 302.48 L132.60 302.49 L133.60 302.50 L134.60 302.51 L135.60 302.53 L136.60 302.54 L137.60 302.55 L138.60 302.56 L139.60 302.57 L140.60 302.57 L141.60 302.58 L142.60 302.59 L143.60 302.59 L144.60 302.59 L145.60 302.60 L146.60 302.60 L147.60 302.60 L148.60 302.60 L149.60 302.60 L150.60 302.60 L151.60 302.60 L152.60 302.60 L153.60 302.60 L154.60 302.60 L155.60 302.60 L156.60 302.60 L157.60 302.59 L158.60 302.59 L159.60 302.59 L160.60 302.59 L161.60 302.59 L162.60 302.59 L163.60 302.59 L164.60 302.59 L165.60 302.58 L166.60 302.58 L167.60 302.58 L168.60 302.58 L169.60 302.58 L170.60 302.57 L171.60 302.57 L172.60 302.57 L173.60 302.57 L174.60 302.57 L175.60 302.56 L176.60 302.56 L177.60 302.56 L178.60 302.56 L179.60 302.55 L180.60 302.55 L181.60 302.55 L182.60 302.54 L183.60 302.54 L184.60 302.54 L185.60 302.53 L186.60 302.53 L187.60 302.53 L188.60 302.52 L189.60 302.52 L190.60 302.51 L191.60 302.51 L192.60 302.50 L193.60 302.50 L194.60 302.49 L195.60 302.49 L196.60 302.48 L197.60 302.48 L198.60 302.47 L199.60 302.47 L200.60 302.46 L201.60 302.45 L202.60 302.45 L203.60 302.44 L204.60 302.43 L205.60 302.43 L206.60 302.42 L207.60 302.41 L208.60 302.41 L209.60 302.40 L210.60 302.39 L211.60 302.39 L212.60 302.38 L213.60 302.37 L214.60 302.36 L215.60 302.36 L216.60 302.35 L217.60 302.35 L218.60 302.34 L219.60 302.33 L220.60 302.33 L221.60 302.32 L222.60 302.32 L223.60 302.31 L224.60 302.30 L225.60 302.29 L226.60 302.28 L227.60 302.26 L228.60 302.23 L229.60 302.19 L230.60 302.14 L231.60 302.08 L232.60 302.00 L233.60 301.90 L234.60 301.78 L235.60 301.66 L236.60 301.52 L237.60 301.37 L238.60 301.23 L239.60 301.11 L240.60 301.00 L241.60 300.93 L242.60 300.88 L243.60 300.88 L244.60 300.92 L245.60 300.99 L246.60 301.09 L247.60 301.21 L248.60 301.35 L249.60 301.49 L250.60 301.63 L251.60 301.76 L252.60 301.87 L253.60 301.97 L254.60 302.04 L255.60 302.09 L256.60 302.11 L257.60 302.11 L258.60 302.09 L259.60 302.04 L260.60 301.97 L261.60 301.88 L262.60 301.77 L263.60 301.64 L264.60 301.51 L265.60 301.36 L266.60 301.22 L267.60 301.07 L268.60 300.93 L269.60 300.77 L270.60 300.60 L271.60 300.42 L272.60 300.24 L273.60 300.05 L274.60 299.87 L275.60 299.72 L276.60 299.63 L277.60 299.61 L278.60 299.66 L279.60 299.78 L280.60 299.96 L281.60 300.17 L282.60 300.40 L283.60 300.64 L284.60 300.86 L285.60 301.07 L286.60 301.26 L287.60 301.42 L288.60 301.56 L289.60 301.67 L290.60 301.77 L291.60 301.84 L292.60 301.89 L293.60 301.93 L294.60 301.95 L295.60 301.97 L296.60 301.97 L297.60 301.96 L298.60 301.94 L299.60 301.92 L300.60 301.89 L301.60 301.85 L302.60 301.80 L303.60 301.75 L304.60 301.68 L305.60 301.60 L306.60 301.52 L307.60 301.42 L308.60 301.30 L309.60 301.18 L310.60 301.04 L311.60 300.90 L312.60 300.75 L313.60 300.61 L314.60 300.48 L315.60 300.38 L316.60 300.30 L317.60 300.25 L318.60 300.24 L319.60 300.25 L320.60 300.28 L321.60 300.31 L322.60 300.34 L323.60 300.36 L324.60 300.35 L325.60 300.33 L326.60 300.28 L327.60 300.21 L328.60 300.12 L329.60 300.01 L330.60 299.88 L331.60 299.74 L332.60 299.60 L333.60 299.45 L334.60 299.30 L335.60 299.17 L336.60 299.05 L337.60 298.95 L338.60 298.88 L339.60 298.83 L340.60 298.82 L341.60 298.84 L342.60 298.89 L343.60 298.98 L344.60 299.09 L345.60 299.24 L346.60 299.40 L347.60 299.58 L348.60 299.77 L349.60 299.97 L350.60 300.17 L351.60 300.37 L352.60 300.56 L353.60 300.75 L354.60 300.92 L355.60 301.08 L356.60 301.23 L357.60 301.36 L358.60 301.48 L359.60 301.58 L360.60 301.67 L361.60 301.75 L362.60 301.81 L363.60 301.85 L364.60 301.89 L365.60 301.92 L366.60 301.94 L367.60 301.95 L368.60 301.95 L369.60 301.95 L370.60 301.94 L371.60 301.93 L372.60 301.92 L373.60 301.90 L374.60 301.88 L375.60 301.86 L376.60 301.84 L377.60 301.81 L378.60 301.79 L379.60 301.76 L380.60 301.73 L381.60 301.71 L382.60 301.68 L383.60 301.66 L384.60 301.64 L385.60 301.62 L386.60 301.60 L387.60 301.59 L388.60 301.58 L389.60 301.57 L390.60 301.57 L391.60 301.57 L392.60 301.58 L393.60 301.59 L394.60 301.60 L395.60 301.62 L396.60 301.64 L397.60 301.66 L398.60 301.68 L399.60 301.71 L400.60 301.74 L401.60 301.77 L402.60 301.79 L403.60 301.82 L404.60 301.85 L405.60 301.87 L406.60 301.90 L407.60 301.93 L408.60 301.95 L409.60 301.97 L410.60 301.98 L411.60 301.98 L412.60 301.98 L413.60 301.97 L414.60 301.96 L415.60 301.94 L416.00 301.93 L416.20 301.93 L416.40 301.92 L416.60 301.92 L416.80 301.91 L417.00 301.91 L417.20 301.90 L417.40 301.89 L417.60 301.89 L417.80 301.88 L418.00 301.87 L418.20 301.87 L418.40 301.86 L418.60 301.86 L418.80 301.85 L419.00 301.84 L419.20 301.84 L419.40 301.83 L419.60 301.82 L419.80 301.82 L420.00 301.81 L420.20 301.80 L420.40 301.80 L420.60 301.79 L420.80 301.78 L421.00 301.78 L421.20 301.77 L421.40 301.76 L421.60 301.76 L421.80 301.75 L422.00 301.74 L422.20 301.73 L422.40 301.73 L422.60 301.72 L422.80 301.71 L423.00 301.70 L423.20 301.70 L423.40 301.69 L423.60 301.68 L423.80 301.67 L424.00 301.66 L424.20 301.66 L424.40 301.65 L424.60 301.64 L424.80 301.63 L425.00 301.62 L425.20 301.62 L425.40 301.61 L425.60 301.60 L425.80 301.59 L426.00 301.58 L426.20 301.57 L426.40 301.56 L426.60 301.55 L426.80 301.53 L427.00 301.52 L427.20 301.51 L427.40 301.49 L427.60 301.48 L427.80 301.46 L428.00 301.45 L428.20 301.43 L428.40 301.41 L428.60 301.39 L428.80 301.37 L429.00 301.35 L429.20 301.33 L429.40 301.31 L429.60 301.29 L429.80 301.26 L430.00 301.24 L430.20 301.21 L430.40 301.19 L430.60 301.16 L430.80 301.13 L431.00 301.11 L431.20 301.08 L431.40 301.04 L431.60 301.00 L431.80 300.96 L432.00 300.89 L432.20 300.81 L432.40 300.72 L432.60 300.62 L432.80 300.52 L433.00 300.41 L433.20 300.30 L433.40 300.18 L433.60 300.05 L433.80 299.92 L434.00 299.78 L434.20 299.63 L434.40 299.48 L434.60 299.32 L434.80 299.15 L435.00 298.98 L435.20 298.79 L435.40 298.61 L435.60 298.42 L435.80 298.23 L436.00 298.03 L436.20 297.81 L436.40 297.56 L436.60 297.25 L436.80 296.87 L437.00 296.48 L437.20 296.14 L437.40 295.85 L437.60 295.57 L437.80 295.19 L438.00 294.80 L438.20 294.46 L438.40 294.13 L438.60 293.86 L438.80 293.63 L439.00 293.44 L439.20 293.26 L439.40 293.07 L439.60 292.88 L439.80 292.75 L440.00 292.67 L440.20 292.63 L440.20 292.63 L440.40 292.65 L440.60 292.67 L440.80 292.69 L441.00 292.71 L441.20 292.74 L441.40 292.79 L441.60 292.86 L441.80 292.94 L442.00 293.03 L442.20 293.13 L442.40 293.22 L442.60 293.31 L442.80 293.40 L443.00 293.50 L443.20 293.61 L443.40 293.74 L443.60 293.90 L443.80 294.13 L444.00 294.42 L444.20 294.71 L444.40 295.01 L444.60 295.33 L444.80 295.65 L445.00 295.98 L445.20 296.28 L445.40 296.54 L445.60 296.79 L445.80 297.03 L446.00 297.25 L446.20 297.46 L446.40 297.66 L446.60 297.83 L446.80 297.99 L447.00 298.15 L447.20 298.30 L447.40 298.45 L447.60 298.61 L447.80 298.80 L448.00 299.00 L448.20 299.19 L448.40 299.34 L448.60 299.44 L448.80 299.56 L449.00 299.71 L449.20 299.90 L449.40 300.06 L449.60 300.18 L449.80 300.26 L450.00 300.34 L450.20 300.41 L450.40 300.48 L450.60 300.55 L450.80 300.62 L451.00 300.69 L451.20 300.75 L451.40 300.82 L451.60 300.87 L451.80 300.93 L452.00 300.98 L452.20 301.03 L452.40 301.07 L452.60 301.12 L452.80 301.16 L453.00 301.20 L453.20 301.23 L453.40 301.27 L453.60 301.30 L453.80 301.33 L454.00 301.36 L454.20 301.38 L454.40 301.41 L454.60 301.44 L454.80 301.46 L455.00 301.48 L455.20 301.51 L455.40 301.53 L455.60 301.55 L455.80 301.57 L456.00 301.60 L456.20 301.62 L456.40 301.64 L456.60 301.66 L456.80 301.68 L457.00 301.70 L457.20 301.72 L457.40 301.74 L457.60 301.76 L457.80 301.77 L458.00 301.79 L458.20 301.81 L458.40 301.82 L458.60 301.84 L458.80 301.85 L459.00 301.86 L459.20 301.87 L459.40 301.89 L459.60 301.90 L459.80 301.91 L460.00 301.92 L460.20 301.93 L460.40 301.94 L460.60 301.95 L460.80 301.96 L461.00 301.97 L461.20 301.97 L461.40 301.98 L461.60 301.99 L461.80 302.00 L462.00 302.01 L462.20 302.02 L462.40 302.03 L462.60 302.04 L462.80 302.05 L463.00 302.06 L463.20 302.07 L463.40 302.08 L463.60 302.08 L463.80 302.09 L464.00 302.10 L464.20 302.11 L464.40 302.12 L464.60 302.12 L464.80 302.13 L465.00 302.14 L465.20 302.15 L465.40 302.15 L465.60 302.16 L465.80 302.17 L466.00 302.18 L466.20 302.18 L466.40 302.19 L466.60 302.20 L466.80 302.20 L467.00 302.21 L467.20 302.21 L467.40 302.21 L467.60 302.22 L467.80 302.22 L468.00 302.23 L468.20 302.23 L468.40 302.23 L468.60 302.24 L468.80 302.24 L469.00 302.24 L469.20 302.25 L469.40 302.25 L469.60 302.25 L469.80 302.26 L470.00 302.26 L470.20 302.26 L470.40 302.26 L470.60 302.26 L470.80 302.26 L471.00 302.27 L471.20 302.27 L471.40 302.27 L471.60 302.27 L471.80 302.27 L472.00 302.27 L473.00 302.27 L474.00 302.27 L475.00 302.27 L476.00 302.27 L477.00 302.27 L478.00 302.28 L479.00 302.29 L480.00 302.30 L481.00 302.32 L482.00 302.33 L483.00 302.36 L484.00 302.38 L485.00 302.41 L486.00 302.43 L487.00 302.46 L488.00 302.48 L489.00 302.50 L490.00 302.52 L491.00 302.53 L492.00 302.54 L493.00 302.55 L494.00 302.56 L495.00 302.56 L496.00 302.56 L497.00 302.56 L498.00 302.55 L499.00 302.55 L500.00 302.54 L501.00 302.53 L502.00 302.52 L503.00 302.51 L504.00 302.50 L505.00 302.49 L506.00 302.48 L507.00 302.47 L508.00 302.47 L509.00 302.46 L510.00 302.45 L511.00 302.44 L512.00 302.44 L513.00 302.43 L514.00 302.43 L515.00 302.42 L516.00 302.42 L517.00 302.42 L518.00 302.42 L519.00 302.42 L520.00 302.42 L521.00 302.43 L522.00 302.43 L523.00 302.44 L524.00 302.44 L525.00 302.45 L526.00 302.46 L527.00 302.47 L528.00 302.48 L529.00 302.49 L530.00 302.51 L530.20 302.51" stroke="#a00000"/>
<path d="M78.60 314.63 L79.60 314.63 L80.60 314.64 L81.60 314.64 L82.60 314.64 L83.60 314.65 L84.60 314.66 L85.60 314.67 L86.60 314.68 L87.60 314.69 L88.60 314.70 L89.60 314.71 L90.60 314.72 L91.60 314.73 L92.60 314.75 L93.60 314.76 L94.60 314.77 L95.60 314.78 L96.60 314.79 L97.60 314.81 L98.60 314.82 L99.60 314.83 L100.60 314.83 L101.60 314.84 L102.60 314.85 L103.60 314.86 L104.60 314.86 L105.60 314.87 L106.60 314.87 L107.60 314.88 L108.60 314.88 L109.60 314.88 L110.60 314.88 L111.60 314.88 L112.60 314.88 L113.60 314.88 L114.60 314.87 L115.60 314.87 L116.60 314.87 L117.60 314.86 L118.60 314.85 L119.60 314.85 L120.60 314.84 L121.60 314.83 L122.60 314.83 L123.60 314.82 L124.60 314.82 L125.60 314.82 L126.60 314.82 L127.60 314.82 L128.60 314.82 L129.60 314.82 L130.60 314.83 L131.60 314.83 L132.60 314.84 L133.60 314.84 L134.60 314.85 L135.60 314.86 L136.60 314.86 L137.60 314.87 L138.60 314.88 L139.60 314.88 L140.60 314.89 L141.60 314.89 L142.60 314.89 L143.60 314.89 L144.60 314.90 L145.60 314.90 L146.60 314.90 L147.60 314.90 L148.60 314.90 L149.60 314.90 L150.60 314.90 L151.60 314.90 L152.60 314.90 L153.60 314.90 L154.60 314.90 L155.60 314.90 L156.60 314.90 L157.60 314.90 L158.60 314.90 L159.60 314.90 L160.60 314.89 L161.60 314.89 L162.60 314.89 L163.60 314.89 L164.60 314.89 L165.60 314.89 L166.60 314.89 L167.60 314.89 L168.60 314.89 L169.60 314.89 L170.60 314.89 L171.60 314.88 L172.60 314.88 L173.60 314.88 L174.60 314.88 L175.60 314.88 L176.60 314.88 L177.60 314.88 L178.60 314.87 L179.60 314.87 L180.60 314.87 L181.60 314.87 L182.60 314.87 L183.60 314.87 L184.60 314.86 L185.60 314.86 L186.60 314.86 L187.60 314.86 L188.60 314.85 L189.60 314.85 L190.60 314.85 L191.60 314.85 L192.60 314.84 L193.60 314.84 L194.60 314.84 L195.60 314.84 L196.60 314.83 L197.60 314.83 L198.60 314.83 L199.60 314.82 L200.60 314.82 L201.60 314.82 L202.60 314.81 L203.60 314.81 L204.60 314.80 L205.60 314.80 L206.60 314.80 L207.60 314.79 L208.60 314.79 L209.60 314.78 L210.60 314.78 L211.60 314.78 L212.60 314.77 L213.60 314.77 L214.60 314.76 L215.60 314.76 L216.60 314.76 L217.60 314.75 L218.60 314.75 L219.60 314.75 L220.60 314.74 L221.60 314.74 L222.60 314.74 L223.60 314.73 L224.60 314.73 L225.60 314.72 L226.60 314.71 L227.60 314.70 L228.60 314.69 L229.60 314.66 L230.60 314.64 L231.60 314.60 L232.60 314.55 L233.60 314.49 L234.60 314.43 L235.60 314.35 L236.60 314.27 L237.60 314.19 L238.60 314.11 L239.60 314.04 L240.60 313.98 L241.60 313.93 L242.60 313.91 L243.60 313.91 L244.60 313.93 L245.60 313.97 L246.60 314.03 L247.60 314.10 L248.60 314.18 L249.60 314.26 L250.60 314.34 L251.60 314.41 L252.60 314.48 L253.60 314.53 L254.60 314.57 L255.60 314.60 L256.60 314.62 L257.60 314.62 L258.60 314.61 L259.60 314.58 L260.60 314.54 L261.60 314.48 L262.60 314.42 L263.60 314.35 L264.60 314.27 L265.60 314.18 L266.60 314.10 L267.60 314.02 L268.60 313.93 L269.60 313.84 L270.60 313.74 L271.60 313.64 L272.60 313.53 L273.60 313.42 L274.60 313.32 L275.60 313.24 L276.60 313.18 L277.60 313.17 L278.60 313.20 L279.60 313.27 L280.60 313.37 L281.60 313.49 L282.60 313.63 L283.60 313.76 L284.60 313.89 L285.60 314.01 L286.60 314.12 L287.60 314.22 L288.60 314.30 L289.60 314.36 L290.60 314.42 L291.60 314.46 L292.60 314.49 L293.60 314.51 L294.60 314.53 L295.60 314.53 L296.60 314.53 L297.60 314.53 L298.60 314.52 L299.60 314.51 L300.60 314.49 L301.60 314.47 L302.60 314.44 L303.60 314.41 L304.60 314.37 L305.60 314.32 L306.60 314.27 L307.60 314.21 L308.60 314.15 L309.60 314.08 L310.60 314.00 L311.60 313.92 L312.60 313.83 L313.60 313.75 L314.60 313.68 L315.60 313.61 L316.60 313.57 L317.60 313.54 L318.60 313.53 L319.60 313.54 L320.60 313.55 L321.60 313.57 L322.60 313.59 L323.60 313.60 L324.60 313.60 L325.60 313.59 L326.60 313.56 L327.60 313.52 L328.60 313.46 L329.60 313.40 L330.60 313.32 L331.60 313.24 L332.60 313.16 L333.60 313.08 L334.60 312.99 L335.60 312.91 L336.60 312.84 L337.60 312.79 L338.60 312.74 L339.60 312.72 L340.60 312.71 L341.60 312.72 L342.60 312.75 L343.60 312.80 L344.60 312.87 L345.60 312.95 L346.60 313.05 L347.60 313.15 L348.60 313.26 L349.60 313.38 L350.60 313.49 L351.60 313.61 L352.60 313.72 L353.60 313.83 L354.60 313.93 L355.60 314.02 L356.60 314.11 L357.60 314.18 L358.60 314.25 L359.60 314.31 L360.60 314.36 L361.60 314.41 L362.60 314.44 L363.60 314.47 L364.60 314.49 L365.60 314.51 L366.60 314.52 L367.60 314.52 L368.60 314.53 L369.60 314.52 L370.60 314.52 L371.60 314.51 L372.60 314.51 L373.60 314.50 L374.60 314.48 L375.60 314.47 L376.60 314.46 L377.60 314.44 L378.60 314.43 L379.60 314.41 L380.60 314.40 L381.60 314.38 L382.60 314.37 L383.60 314.35 L384.60 314.34 L385.60 314.33 L386.60 314.32 L387.60 314.31 L388.60 314.31 L389.60 314.30 L390.60 314.30 L391.60 314.30 L392.60 314.31 L393.60 314.31 L394.60 314.32 L395.60 314.33 L396.60 314.34 L397.60 314.36 L398.60 314.37 L399.60 314.39 L400.60 314.40 L401.60 314.42 L402.60 314.43 L403.60 314.45 L404.60 314.46 L405.60 314.48 L406.60 314.49 L407.60 314.51 L408.60 314.52 L409.60 314.54 L410.60 314.54 L411.60 314.54 L412.60 314.54 L413.60 314.54 L414.60 314.53 L415.60 314.52 L416.00 314.51 L416.20 314.51 L416.40 314.51 L416.60 314.50 L416.80 314.50 L417.00 314.50 L417.20 314.49 L417.40 314.49 L417.60 314.49 L417.80 314.48 L418.00 314.48 L418.20 314.48 L418.40 314.47 L418.60 314.47 L418.80 314.47 L419.00 314.46 L419.20 314.46 L419.40 314.45 L419.60 314.45 L419.80 314.45 L420.00 314.44 L420.20 314.44 L420.40 314.44 L420.60 314.43 L420.80 314.43 L421.00 314.42 L421.20 314.42 L421.40 314.42 L421.60 314.41 L421.80 314.41 L422.00 314.40 L422.20 314.40 L422.40 314.39 L422.60 314.39 L422.80 314.39 L423.00 314.38 L423.20 314.38 L423.40 314.37 L423.60 314.37 L423.80 314.36 L424.00 314.36 L424.20 314.35 L424.40 314.35 L424.60 314.34 L424.80 314.34 L425.00 314.33 L425.20 314.33 L425.40 314.32 L425.60 314.32 L425.80 314.31 L426.00 314.31 L426.20 314.30 L426.40 314.30 L426.60 314.29 L426.80 314.28 L427.00 314.28 L427.20 314.27 L427.40 314.26 L427.60 314.25 L427.80 314.24 L428.00 314.23 L428.20 314.22 L428.40 314.21 L428.60 314.20 L428.80 314.19 L429.00 314.18 L429.20 314.17 L429.40 314.15 L429.60 314.14 L429.80 314.13 L430.00 314.11 L430.20 314.10 L430.40 314.08 L430.60 314.07 L430.80 314.05 L431.00 314.04 L431.20 314.02 L431.40 314.00 L431.60 313.98 L431.80 313.95 L432.00 313.91 L432.20 313.86 L432.40 313.81 L432.60 313.75 L432.80 313.69 L433.00 313.63 L433.20 313.57 L433.40 313.50 L433.60 313.43 L433.80 313.35 L434.00 313.27 L434.20 313.18 L434.40 313.09 L434.60 313.00 L434.80 312.90 L435.00 312.80 L435.20 312.70 L435.40 312.59 L435.60 312.48 L435.80 312.37 L436.00 312.26 L436.20 312.13 L436.40 311.98 L436.60 311.80 L436.80 311.58 L437.00 311.36 L437.20 311.16 L437.40 310.99 L437.60 310.83 L437.80 310.61 L438.00 310.38 L438.20 310.18 L438.40 310.00 L438.60 309.84 L438.80 309.71 L439.00 309.60 L439.20 309.49 L439.40 309.38 L439.60 309.27 L439.80 309.20 L440.00 309.15 L440.20 309.13 L440.20 309.13 L440.40 309.14 L440.60 309.15 L440.80 309.16 L441.00 309.18 L441.20 309.19 L441.40 309.22 L441.60 309.26 L441.80 309.31 L442.00 309.36 L442.20 309.42 L442.40 309.47 L442.60 309.52 L442.80 309.57 L443.00 309.63 L443.20 309.70 L443.40 309.77 L443.60 309.86 L443.80 310.00 L444.00 310.16 L444.20 310.33 L444.40 310.51 L444.60 310.69 L444.80 310.87 L445.00 311.07 L445.20 311.24 L445.40 311.39 L445.60 311.54 L445.80 311.68 L446.00 311.81 L446.20 311.93 L446.40 312.04 L446.60 312.14 L446.80 312.23 L447.00 312.32 L447.20 312.41 L447.40 312.50 L447.60 312.59 L447.80 312.70 L448.00 312.82 L448.20 312.93 L448.40 313.01 L448.60 313.07 L448.80 313.14 L449.00 313.23 L449.20 313.34 L449.40 313.43 L449.60 313.50 L449.80 313.55 L450.00 313.59 L450.20 313.63 L450.40 313.67 L450.60 313.72 L450.80 313.76 L451.00 313.79 L451.20 313.83 L451.40 313.87 L451.60 313.90 L451.80 313.93 L452.00 313.96 L452.20 313.99 L452.40 314.02 L452.60 314.04 L452.80 314.07 L453.00 314.09 L453.20 314.11 L453.40 314.13 L453.60 314.15 L453.80 314.16 L454.00 314.18 L454.20 314.20 L454.40 314.21 L454.60 314.23 L454.80 314.24 L455.00 314.25 L455.20 314.27 L455.40 314.28 L455.60 314.29 L455.80 314.31 L456.00 314.32 L456.20 314.33 L456.40 314.34 L456.60 314.36 L456.80 314.37 L457.00 314.38 L457.20 314.39 L457.40 314.40 L457.60 314.41 L457.80 314.42 L458.00 314.43 L458.20 314.44 L458.40 314.45 L458.60 314.46 L458.80 314.47 L459.00 314.47 L459.20 314.48 L459.40 314.49 L459.60 314.49 L459.80 314.50 L460.00 314.50 L460.20 314.51 L460.40 314.52 L460.60 314.52 L460.80 314.53 L461.00 314.53 L461.20 314.54 L461.40 314.54 L461.60 314.55 L461.80 314.55 L462.00 314.56 L462.20 314.57 L462.40 314.57 L462.60 314.58 L462.80 314.58 L463.00 314.59 L463.20 314.59 L463.40 314.60 L463.60 314.60 L463.80 314.61 L464.00 314.61 L464.20 314.62 L464.40 314.62 L464.60 314.62 L464.80 314.63 L465.00 314.63 L465.20 314.64 L465.40 314.64 L465.60 314.65 L465.80 314.65 L466.00 314.65 L466.20 314.66 L466.40 314.66 L466.60 314.67 L466.80 314.67 L467.00 314.67 L467.20 314.67 L467.40 314.68 L467.60 314.68 L467.80 314.68 L468.00 314.68 L468.20 314.69 L468.40 314.69 L468.60 314.69 L468.80 314.69 L469.00 314.69 L469.20 314.70 L469.40 314.70 L469.60 314.70 L469.80 314.70 L470.00 314.70 L470.20 314.70 L470.40 314.70 L470.60 314.70 L470.80 314.71 L471.00 314.71 L471.20 314.71 L471.40 314.71 L471.60 314.71 L471.80 314.71 L472.00 314.71 L473.00 314.71 L474.00 314.71 L475.00 314.71 L476.00 314.71 L477.00 314.71 L478.00 314.71 L479.00 314.72 L480.00 314.73 L481.00 314.74 L482.00 314.75 L483.00 314.76 L484.00 314.77 L485.00 314.79 L486.00 314.80 L487.00 314.82 L488.00 314.83 L489.00 314.84 L490.00 314.85 L491.00 314.86 L492.00 314.87 L493.00 314.87 L494.00 314.88 L495.00 314.88 L496.00 314.88 L497.00 314.88 L498.00 314.87 L499.00 314.87 L500.00 314.87 L501.00 314.86 L502.00 314.86 L503.00 314.85 L504.00 314.84 L505.00 314.84 L506.00 314.83 L507.00 314.83 L508.00 314.82 L509.00 314.82 L510.00 314.81 L511.00 314.81 L512.00 314.80 L513.00 314.80 L514.00 314.80 L515.00 314.80 L516.00 314.80 L517.00 314.80 L518.00 314.80 L519.00 314.80 L520.00 314.80 L521.00 314.80 L522.00 314.80 L523.00 314.81 L524.00 314.81 L525.00 314.81 L526.00 314.82 L527.00 314.83 L528.00 314.83 L529.00 314.84 L530.00 314.85 L530.20 314.85" stroke="#808000"/>
<path d="M78.60 326.79 L79.60 326.79 L80.60 326.79 L81.60 326.79 L82.60 326.79 L83.60 326.79 L84.60 326.80 L85.60 326.80 L86.60 326.81 L87.60 326.81 L88.60 326.81 L89.60 326.82 L90.60 326.82 L91.60 326.83 L92.60 326.84 L93.60 326.84 L94.60 326.85 L95.60 326.85 L96.60 326.86 L97.60 326.86 L98.60 326.86 L99.60 326.87 L100.60 326.87 L101.60 326.88 L102.60 326.88 L103.60 326.88 L104.60 326.88 L105.60 326.89 L106.60 326.89 L107.60 326.89 L108.60 326.89 L109.60 326.89 L110.60 326.89 L111.60 326.89 L112.60 326.89 L113.60 326.89 L114.60 326.89 L115.60 326.89 L116.60 326.89 L117.60 326.88 L118.60 326.88 L119.60 326.88 L120.60 326.87 L121.60 326.87 L122.60 326.87 L123.60 326.87 L124.60 326.87 L125.60 326.86 L126.60 326.86 L127.60 326.86 L128.60 326.87 L129.60 326.87 L130.60 326.87 L131.60 326.87 L132.60 326.87 L133.60 326.88 L134.60 326.88 L135.60 326.88 L136.60 326.88 L137.60 326.89 L138.60 326.89 L139.60 326.89 L140.60 326.89 L141.60 326.90 L142.60 326.90 L143.60 326.90 L144.60 326.90 L145.60 326.90 L146.60 326.90 L147.60 326.90 L148.60 326.90 L149.60 326.90 L150.60 326.90 L151.60 326.90 L152.60 326.90 L153.60 326.90 L154.60 326.90 L155.60 326.90 L156.60 326.90 L157.60 326.90 L158.60 326.90 L159.60 326.90 L160.60 326.90 L161.60 326.90 L162.60 326.90 L163.60 326.90 L164.60 326.90 L165.60 326.90 L166.60 326.90 L167.60 326.90 L168.60 326.89 L169.60 326.89 L170.60 326.89 L171.60 326.89 L172.60 326.89 L173.60 326.89 L174.60 326.89 L175.60 326.89 L176.60 326.89 L177.60 326.89 L178.60 326.89 L179.60 326.89 L180.60 326.89 L181.60 326.89 L182.60 326.89 L183.60 326.89 L184.60 326.88 L185.60 326.88 L186.60 326.88 L187.60 326.88 L188.60 326.88 L189.60 326.88 L190.60 326.88 L191.60 326.88 L192.60 326.88 L193.60 326.88 L194.60 326.87 L195.60 326.87 L196.60 326.87 L197.60 326.87 L198.60 326.87 L199.60 326.87 L200.60 326.87 L201.60 326.86 L202.60 326.86 L203.60 326.86 L204.60 326.86 L205.60 326.86 L206.60 326.86 L207.60 326.85 L208.60 326.85 L209.60 326.85 L210.60 326.85 L211.60 326.85 L212.60 326.85 L213.60 326.84 L214.60 326.84 L215.60 326.84 L216.60 326.84 L217.60 326.84 L218.60 326.84 L219.60 326.83 L220.60 326.83 L221.60 326.83 L222.60 326.83 L223.60 326.83 L224.60 326.83 L225.60 326.82 L226.60 326.82 L227.60 326.82 L228.60 326.81 L229.60 326.80 L230.60 326.79 L231.60 326.77 L232.60 326.75 L233.60 326.73 L234.60 326.70 L235.60 326.67 L236.60 326.63 L237.60 326.60 L238.60 326.56 L239.60 326.53 L240.60 326.51 L241.60 326.49 L242.60 326.48 L243.60 326.48 L244.60 326.49 L245.60 326.50 L246.60 326.53 L247.60 326.56 L248.60 326.59 L249.60 326.63 L250.60 326.66 L251.60 326.69 L252.60 326.72 L253.60 326.74 L254.60 326.76 L255.60 326.77 L256.60 326.78 L257.60 326.78 L258.60 326.77 L259.60 326.76 L260.60 326.75 L261.60 326.72 L262.60 326.70 L263.60 326.66 L264.60 326.63 L265.60 326.60 L266.60 326.56 L267.60 326.53 L268.60 326.49 L269.60 326.45 L270.60 326.41 L271.60 326.37 L272.60 326.32 L273.60 326.27 L274.60 326.23 L275.60 326.19 L276.60 326.17 L277.60 326.16 L278.60 326.18 L279.60 326.21 L280.60 326.25 L281.60 326.30 L282.60 326.36 L283.60 326.42 L284.60 326.47 L285.60 326.52 L286.60 326.57 L287.60 326.61 L288.60 326.64 L289.60 326.67 L290.60 326.70 L291.60 326.71 L292.60 326.73 L293.60 326.74 L294.60 326.74 L295.60 326.74 L296.60 326.74 L297.60 326.74 L298.60 326.74 L299.60 326.73 L300.60 326.73 L301.60 326.72 L302.60 326.70 L303.60 326.69 L304.60 326.67 L305.60 326.66 L306.60 326.63 L307.60 326.61 L308.60 326.58 L309.60 326.55 L310.60 326.52 L311.60 326.48 L312.60 326.45 L313.60 326.41 L314.60 326.38 L315.60 326.35 L316.60 326.33 L317.60 326.32 L318.60 326.32 L319.60 326.32 L320.60 326.33 L321.60 326.34 L322.60 326.34 L323.60 326.35 L324.60 326.35 L325.60 326.34 L326.60 326.33 L327.60 326.31 L328.60 326.29 L329.60 326.26 L330.60 326.23 L331.60 326.20 L332.60 326.16 L333.60 326.13 L334.60 326.09 L335.60 326.06 L336.60 326.03 L337.60 326.00 L338.60 325.99 L339.60 325.97 L340.60 325.97 L341.60 325.98 L342.60 325.99 L343.60 326.01 L344.60 326.04 L345.60 326.07 L346.60 326.11 L347.60 326.16 L348.60 326.21 L349.60 326.25 L350.60 326.30 L351.60 326.35 L352.60 326.40 L353.60 326.45 L354.60 326.49 L355.60 326.53 L356.60 326.56 L357.60 326.60 L358.60 326.63 L359.60 326.65 L360.60 326.67 L361.60 326.69 L362.60 326.71 L363.60 326.72 L364.60 326.73 L365.60 326.73 L366.60 326.74 L367.60 326.74 L368.60 326.74 L369.60 326.74 L370.60 326.74 L371.60 326.74 L372.60 326.73 L373.60 326.73 L374.60 326.72 L375.60 326.72 L376.60 326.71 L377.60 326.71 L378.60 326.70 L379.60 326.69 L380.60 326.69 L381.60 326.68 L382.60 326.67 L383.60 326.67 L384.60 326.66 L385.60 326.66 L386.60 326.65 L387.60 326.65 L388.60 326.65 L389.60 326.65 L390.60 326.65 L391.60 326.65 L392.60 326.65 L393.60 326.65 L394.60 326.65 L395.60 326.66 L396.60 326.66 L397.60 326.67 L398.60 326.68 L399.60 326.68 L400.60 326.69 L401.60 326.70 L402.60 326.70 L403.60 326.71 L404.60 326.72 L405.60 326.72 L406.60 326.73 L407.60 326.73 L408.60 326.74 L409.60 326.75 L410.60 326.75 L411.60 326.75 L412.60 326.75 L413.60 326.75 L414.60 326.74 L415.60 326.74 L416.00 326.74 L416.20 326.73 L416.40 326.73 L416.60 326.73 L416.80 326.73 L417.00 326.73 L417.20 326.73 L417.40 326.73 L417.60 326.72 L417.80 326.72 L418.00 326.72 L418.20 326.72 L418.40 326.72 L418.60 326.72 L418.80 326.72 L419.00 326.71 L419.20 326.71 L419.40 326.71 L419.60 326.71 L419.80 326.71 L420.00 326.71 L420.20 326.70 L420.40 326.70 L420.60 326.70 L420.80 326.70 L421.00 326.70 L421.20 326.70 L421.40 326.69 L421.60 326.69 L421.80 326.69 L422.00 326.69 L422.20 326.69 L422.40 326.69 L422.60 326.68 L422.80 326.68 L423.00 326.68 L423.20 326.68 L423.40 326.68 L423.60 326.67 L423.80 326.67 L424.00 326.67 L424.20 326.67 L424.40 326.67 L424.60 326.66 L424.80 326.66 L425.00 326.66 L425.20 326.66 L425.40 326.66 L425.60 326.65 L425.80 326.65 L426.00 326.65 L426.20 326.65 L426.40 326.64 L426.60 326.64 L426.80 326.64 L427.00 326.64 L427.20 326.63 L427.40 326.63 L427.60 326.62 L427.80 326.62 L428.00 326.62 L428.20 326.61 L428.40 326.61 L428.60 326.60 L428.80 326.60 L429.00 326.59 L429.20 326.59 L429.40 326.58 L429.60 326.58 L429.80 326.57 L430.00 326.57 L430.20 326.56 L430.40 326.55 L430.60 326.55 L430.80 326.54 L431.00 326.53 L431.20 326.53 L431.40 326.52 L431.60 326.51 L431.80 326.50 L432.00 326.48 L432.20 326.46 L432.40 326.44 L432.60 326.41 L432.80 326.39 L433.00 326.36 L433.20 326.34 L433.40 326.31 L433.60 326.27 L433.80 326.24 L434.00 326.21 L434.20 326.17 L434.40 326.13 L434.60 326.09 L434.80 326.05 L435.00 326.01 L435.20 325.97 L435.40 325.92 L435.60 325.87 L435.80 325.83 L436.00 325.78 L436.20 325.72 L436.40 325.66 L436.60 325.59 L436.80 325.49 L437.00 325.40 L437.20 325.31 L437.40 325.24 L437.60 325.17 L437.80 325.08 L438.00 324.98 L438.20 324.90 L438.40 324.82 L438.60 324.75 L438.80 324.70 L439.00 324.65 L439.20 324.61 L439.40 324.56 L439.60 324.51 L439.80 324.48 L440.00 324.46 L440.20 324.45 L440.20 324.45 L440.40 324.46 L440.60 324.46 L440.80 324.47 L441.00 324.47 L441.20 324.48 L441.40 324.49 L441.60 324.51 L441.80 324.53 L442.00 324.55 L442.20 324.57 L442.40 324.60 L442.60 324.62 L442.80 324.64 L443.00 324.66 L443.20 324.69 L443.40 324.72 L443.60 324.76 L443.80 324.82 L444.00 324.89 L444.20 324.96 L444.40 325.04 L444.60 325.11 L444.80 325.19 L445.00 325.27 L445.20 325.35 L445.40 325.41 L445.60 325.47 L445.80 325.53 L446.00 325.59 L446.20 325.64 L446.40 325.69 L446.60 325.73 L446.80 325.77 L447.00 325.81 L447.20 325.84 L447.40 325.88 L447.60 325.92 L447.80 325.97 L448.00 326.02 L448.20 326.06 L448.40 326.10 L448.60 326.12 L448.80 326.15 L449.00 326.19 L449.20 326.24 L449.40 326.28 L449.60 326.30 L449.80 326.33 L450.00 326.34 L450.20 326.36 L450.40 326.38 L450.60 326.40 L450.80 326.41 L451.00 326.43 L451.20 326.45 L451.40 326.46 L451.60 326.48 L451.80 326.49 L452.00 326.50 L452.20 326.51 L452.40 326.53 L452.60 326.54 L452.80 326.55 L453.00 326.56 L453.20 326.56 L453.40 326.57 L453.60 326.58 L453.80 326.59 L454.00 326.59 L454.20 326.60 L454.40 326.61 L454.60 326.61 L454.80 326.62 L455.00 326.63 L455.20 326.63 L455.40 326.64 L455.60 326.64 L455.80 326.65 L456.00 326.65 L456.20 326.66 L456.40 326.66 L456.60 326.67 L456.80 326.67 L457.00 326.68 L457.20 326.68 L457.40 326.69 L457.60 326.69 L457.80 326.70 L458.00 326.70 L458.20 326.71 L458.40 326.71 L458.60 326.71 L458.80 326.72 L459.00 326.72 L459.20 326.72 L459.40 326.72 L459.60 326.73 L459.80 326.73 L460.00 326.73 L460.20 326.73 L460.40 326.74 L460.60 326.74 L460.80 326.74 L461.00 326.74 L461.20 326.75 L461.40 326.75 L461.60 326.75 L461.80 326.75 L462.00 326.76 L462.20 326.76 L462.40 326.76 L462.60 326.76 L462.80 326.76 L463.00 326.77 L463.20 326.77 L463.40 326.77 L463.60 326.77 L463.80 326.78 L464.00 326.78 L464.20 326.78 L464.40 326.78 L464.60 326.78 L464.80 326.79 L465.00 326.79 L465.20 326.79 L465.40 326.79 L465.60 326.79 L465.80 326.79 L466.00 326.80 L466.20 326.80 L466.40 326.80 L466.60 326.80 L466.80 326.80 L467.00 326.80 L467.20 326.80 L467.40 326.81 L467.60 326.81 L467.80 326.81 L468.00 326.81 L468.20 326.81 L468.40 326.81 L468.60 326.81 L468.80 326.81 L469.00 326.81 L469.20 326.81 L469.40 326.81 L469.60 326.81 L469.80 326.82 L470.00 326.82 L470.20 326.82 L470.40 326.82 L470.60 326.82 L470.80 326.82 L471.00 326.82 L471.20 326.82 L471.40 326.82 L471.60 326.82 L471.80 326.82 L472.00 326.82 L473.00 326.82 L474.00 326.82 L475.00 326.82 L476.00 326.82 L477.00 326.82 L478.00 326.82 L479.00 326.82 L480.00 326.83 L481.00 326.83 L482.00 326.83 L483.00 326.84 L484.00 326.85 L485.00 326.85 L486.00 326.86 L487.00 326.86 L488.00 326.87 L489.00 326.88 L490.00 326.88 L491.00 326.88 L492.00 326.89 L493.00 326.89 L494.00 326.89 L495.00 326.89 L496.00 326.89 L497.00 326.89 L498.00 326.89 L499.00 326.89 L500.00 326.89 L501.00 326.88 L502.00 326.88 L503.00 326.88 L504.00 326.88 L505.00 326.87 L506.00 326.87 L507.00 326.87 L508.00 326.87 L509.00 326.86 L510.00 326.86 L511.00 326.86 L512.00 326.86 L513.00 326.86 L514.00 326.86 L515.00 326.86 L516.00 326.86 L517.00 326.86 L518.00 326.86 L519.00 326.86 L520.00 326.86 L521.00 326.86 L522.00 326.86 L523.00 326.86 L524.00 326.86 L525.00 326.86 L526.00 326.87 L527.00 326.87 L528.00 326.87 L529.00 326.87 L530.00 326.88 L530.20 326.88" stroke="#1a6ebd"/>
</g>
<rect x="78.60" y="11.80" width="451.60" height="331.60" fill="none" stroke="#000" stroke-width="1.5"/>
<path d="M78.60 343.40V350.40 M123.76 343.40V347.00 M168.92 343.40V350.40 M214.08 343.40V347.00 M259.24 343.40V350.40 M304.40 343.40V347.00 M349.56 343.40V350.40 M394.72 343.40V347.00 M439.88 343.40V350.40 M485.04 343.40V347.00 M530.20 343.40V350.40 M78.60 339.31H71.40 M78.60 318.84H75.00 M78.60 298.37H71.40 M78.60 277.90H75.00 M78.60 257.43H71.40 M78.60 236.96H75.00 M78.60 216.49H71.40 M78.60 196.02H75.00 M78.60 175.55H71.40 M78.60 155.08H75.00 M78.60 134.61H71.40 M78.60 114.15H75.00 M78.60 93.68H71.40 M78.60 73.21H75.00 M78.60 52.74H71.40 M78.60 32.27H75.00 M78.60 11.80H71.40" stroke="#000" stroke-width="1.4" fill="none"/>
<g class="tl">
<text x="67.2" y="343.51" text-anchor="end">0</text>
<text x="67.2" y="302.57" text-anchor="end">5,000</text>
<text x="67.2" y="261.63" text-anchor="end">10,000</text>
<text x="67.2" y="220.69" text-anchor="end">15,000</text>
<text x="67.2" y="179.75" text-anchor="end">20,000</text>
<text x="67.2" y="138.81" text-anchor="end">25,000</text>
<text x="67.2" y="97.88" text-anchor="end">30,000</text>
<text x="67.2" y="56.94" text-anchor="end">35,000</text>
<text x="67.2" y="16.00" text-anchor="end">40,000</text>
<text x="78.60" y="366.3" text-anchor="middle">800</text>
<text x="168.92" y="366.3" text-anchor="middle">1000</text>
<text x="259.24" y="366.3" text-anchor="middle">1200</text>
<text x="349.56" y="366.3" text-anchor="middle">1400</text>
<text x="439.88" y="366.3" text-anchor="middle">1600</text>
<text x="530.20" y="366.3" text-anchor="middle">1800</text>
</g>
<text x="18.4" y="234.8" transform="rotate(-90 18.4 234.8)" style="font-size:18px" fill="#111">Raman intensity</text>
<text x="242.6" y="385.6" style="font-size:16.2px" fill="#111">Raman shift/cm<tspan dy="-7.3" style="font-size:9.2px">&#8722;</tspan><tspan dx="0.9" style="font-size:9.2px">1</tspan></text>
<g class="ann">
<text x="213.5" y="169.7">1168 cm<tspan dy="-6.3" style="font-size:6.4px">&#8722;</tspan><tspan dx="0.9" style="font-size:6.4px">1</tspan></text>
<text x="257" y="145.7">1240 cm<tspan dy="-6.3" style="font-size:6.4px">&#8722;</tspan><tspan dx="0.9" style="font-size:6.4px">1</tspan></text>
<text x="316.8" y="133.9">1375 cm<tspan dy="-6.3" style="font-size:6.4px">&#8722;</tspan><tspan dx="0.9" style="font-size:6.4px">1</tspan></text>
<text x="421" y="28.6">1600 cm<tspan dy="-6.3" style="font-size:6.4px">&#8722;</tspan><tspan dx="0.9" style="font-size:6.4px">1</tspan></text>
<text class="pl" x="497.3" y="66">(k)</text>
<text class="pl" x="497.3" y="118.5">(a)</text>
</g>
<path d="M506.5 103.6V86" stroke="#ff0080" stroke-width="1.1"/>
<path d="M506.5 78.5L509.1 86.9H503.9Z" fill="#ff0080"/>
</svg>
</body></html>
